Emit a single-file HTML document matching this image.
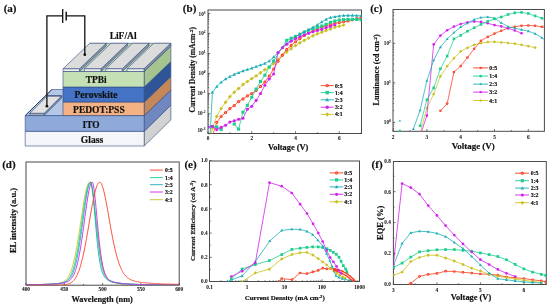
<!DOCTYPE html><html><head><meta charset="utf-8"><style>html,body{margin:0;padding:0;background:#fff;overflow:hidden}svg{display:block;filter:blur(0.35px)}text{font-family:"Liberation Serif",serif;font-weight:bold;stroke:#111;stroke-width:0.18px}.tk{stroke-width:0.06px}</style></head><body>
<svg width="550" height="308" viewBox="0 0 550 308">
<rect width="550" height="308" fill="#fff"/>
<defs>
<clipPath id="cb"><rect x="208" y="10" width="153.5" height="123.5"/></clipPath>
<clipPath id="cc"><rect x="393" y="9.5" width="151.5" height="121.8"/></clipPath>
<clipPath id="cd"><rect x="26" y="162" width="153.2" height="123.2"/></clipPath>
<clipPath id="ce"><rect x="209.5" y="161" width="150" height="120.5"/></clipPath>
<clipPath id="cf"><rect x="393.4" y="161.5" width="152.9" height="123"/></clipPath>
<pattern id="dots" width="2" height="2" patternUnits="userSpaceOnUse"><rect width="2" height="2" fill="#f6f7fa"/><rect width="1" height="1" fill="#eceff4"/></pattern>
</defs>
<g stroke-linejoin="round"><polygon points="144.2,131.3 170.9,105.2 170.9,119.9 144.2,146" fill="#d2d2d2" stroke="#2f4a7f" stroke-width="0.6"/><polygon points="144.2,115.6 170.9,89.5 170.9,105.2 144.2,131.3" fill="#7088bf" stroke="#2f4a7f" stroke-width="0.6"/><polygon points="25.2,115.6 144.2,115.6 170.9,89.5 51.9,89.5" fill="#b4c7e7" stroke="#2f4a7f" stroke-width="0.6"/><line x1="25.2" y1="115.6" x2="51.9" y2="89.5" stroke="#1f3864" stroke-width="0.9"/><polygon points="25.2,131.3 144.2,131.3 144.2,146 25.2,146" fill="url(#dots)" stroke="#2f4a7f" stroke-width="0.6"/><polygon points="25.2,115.6 144.2,115.6 144.2,131.3 25.2,131.3" fill="#8eaadb" stroke="#2f4a7f" stroke-width="0.6"/><polygon points="29.8,113.4 44.3,113.4 61.8,95.9 47.3,95.9" fill="#e2e2e2" stroke="#2f4a7f" stroke-width="0.6"/><line x1="47.3" y1="95.9" x2="61.8" y2="95.9" stroke="#2a3f6a" stroke-width="0.9"/><polygon points="44.3,113.4 61.8,95.9 61.8,97.9 44.3,115.3" fill="#8a93a3" stroke="#2f4a7f" stroke-width="0.6"/><polygon points="29.8,113.4 44.3,113.4 44.3,115.3 29.8,115.3" fill="#b9b9b9" stroke="#2f4a7f" stroke-width="0.6"/><polygon points="144.2,102 170.9,76.5 170.9,90.1 144.2,115.6" fill="#c4875a" stroke="#2f4a7f" stroke-width="0.6"/><polygon points="144.2,87 170.9,61.5 170.9,76.5 144.2,102" fill="#2e5597" stroke="#2f4a7f" stroke-width="0.6"/><polygon points="144.2,71.5 170.9,46 170.9,61.5 144.2,87" fill="#a6c48f" stroke="#2f4a7f" stroke-width="0.6"/><polygon points="63,71.5 144.2,71.5 170.9,46 170.9,43.3 89.7,43.3 89.7,46" fill="#c5e0b4" stroke="#2f4a7f" stroke-width="0.6"/><polygon points="63,102 144.2,102 144.2,115.6 63,115.6" fill="#f4b183" stroke="#2f4a7f" stroke-width="0.6"/><polygon points="63,87 144.2,87 144.2,102 63,102" fill="#4472c4" stroke="#2f4a7f" stroke-width="0.6"/><polygon points="63,71.5 144.2,71.5 144.2,87 63,87" fill="#c5e0b4" stroke="#2f4a7f" stroke-width="0.6"/><polygon points="79.5,68.8 106.2,43.3 106.2,46 79.5,71.5" fill="#8c96a8" stroke="#2f4a7f" stroke-width="0.6"/><polygon points="63,68.8 79.5,68.8 106.2,43.3 89.7,43.3" fill="#dcdcdc" stroke="#2f4a7f" stroke-width="0.6"/><polygon points="63,68.8 79.5,68.8 79.5,71.5 63,71.5" fill="#eeeeee" stroke="#2f4a7f" stroke-width="0.6"/><polygon points="101,68.8 127.7,43.3 127.7,46 101,71.5" fill="#8c96a8" stroke="#2f4a7f" stroke-width="0.6"/><polygon points="84.3,68.8 101,68.8 127.7,43.3 111,43.3" fill="#dcdcdc" stroke="#2f4a7f" stroke-width="0.6"/><polygon points="84.3,68.8 101,68.8 101,71.5 84.3,71.5" fill="#eeeeee" stroke="#2f4a7f" stroke-width="0.6"/><polygon points="122.3,68.8 149,43.3 149,46 122.3,71.5" fill="#8c96a8" stroke="#2f4a7f" stroke-width="0.6"/><polygon points="105.8,68.8 122.3,68.8 149,43.3 132.5,43.3" fill="#dcdcdc" stroke="#2f4a7f" stroke-width="0.6"/><polygon points="105.8,68.8 122.3,68.8 122.3,71.5 105.8,71.5" fill="#eeeeee" stroke="#2f4a7f" stroke-width="0.6"/><polygon points="144,68.8 170.7,43.3 170.7,46 144,71.5" fill="#8c96a8" stroke="#2f4a7f" stroke-width="0.6"/><polygon points="127,68.8 144,68.8 170.7,43.3 153.7,43.3" fill="#dcdcdc" stroke="#2f4a7f" stroke-width="0.6"/><polygon points="127,68.8 144,68.8 144,71.5 127,71.5" fill="#eeeeee" stroke="#2f4a7f" stroke-width="0.6"/></g><g stroke="#111" stroke-width="1.3" fill="none" stroke-linecap="butt"><polyline points="46.9,106.2 46.9,15.8 62.7,15.8"/><polyline points="66.2,15.8 84.8,15.8 84.8,54.7"/><line x1="62.7" y1="9.1" x2="62.7" y2="23.1"/><line x1="66.2" y1="11.7" x2="66.2" y2="20.5" stroke-width="1.5"/></g><circle cx="46.9" cy="106.2" r="1.4" fill="#111"/><circle cx="84.8" cy="54.7" r="1.4" fill="#111"/><text x="123.1" y="38.6" font-size="9.5" text-anchor="middle" fill="#111">LiF/Al</text><text x="96.2" y="83.1" font-size="9.4" text-anchor="middle" fill="#111">TPBi</text><text x="96" y="98.4" font-size="9.6" text-anchor="middle" fill="#111">Perovskite</text><text x="98.9" y="112.8" font-size="9.5" text-anchor="middle" fill="#111">PEDOT:PSS</text><text x="91" y="127.9" font-size="9.4" text-anchor="middle" fill="#111">ITO</text><text x="92" y="143.1" font-size="9.6" text-anchor="middle" fill="#111">Glass</text><text x="10.1" y="11.8" font-size="11" text-anchor="middle" fill="#111">(a)</text>
<rect x="208" y="10" width="153.5" height="123.5" fill="none" stroke="#4a4a4a" stroke-width="1"/><line x1="208" y1="133.75" x2="210.2" y2="133.75" stroke="#4a4a4a" stroke-width="0.8"/><line x1="208" y1="127.71" x2="209.1" y2="127.71" stroke="#4a4a4a" stroke-width="0.8"/><line x1="208" y1="124.18" x2="209.1" y2="124.18" stroke="#4a4a4a" stroke-width="0.8"/><line x1="208" y1="121.68" x2="209.1" y2="121.68" stroke="#4a4a4a" stroke-width="0.8"/><line x1="208" y1="119.74" x2="209.1" y2="119.74" stroke="#4a4a4a" stroke-width="0.8"/><line x1="208" y1="118.15" x2="209.1" y2="118.15" stroke="#4a4a4a" stroke-width="0.8"/><line x1="208" y1="116.81" x2="209.1" y2="116.81" stroke="#4a4a4a" stroke-width="0.8"/><line x1="208" y1="115.64" x2="209.1" y2="115.64" stroke="#4a4a4a" stroke-width="0.8"/><line x1="208" y1="114.62" x2="209.1" y2="114.62" stroke="#4a4a4a" stroke-width="0.8"/><line x1="208" y1="113.7" x2="210.2" y2="113.7" stroke="#4a4a4a" stroke-width="0.8"/><line x1="208" y1="107.66" x2="209.1" y2="107.66" stroke="#4a4a4a" stroke-width="0.8"/><line x1="208" y1="104.13" x2="209.1" y2="104.13" stroke="#4a4a4a" stroke-width="0.8"/><line x1="208" y1="101.63" x2="209.1" y2="101.63" stroke="#4a4a4a" stroke-width="0.8"/><line x1="208" y1="99.69" x2="209.1" y2="99.69" stroke="#4a4a4a" stroke-width="0.8"/><line x1="208" y1="98.1" x2="209.1" y2="98.1" stroke="#4a4a4a" stroke-width="0.8"/><line x1="208" y1="96.76" x2="209.1" y2="96.76" stroke="#4a4a4a" stroke-width="0.8"/><line x1="208" y1="95.59" x2="209.1" y2="95.59" stroke="#4a4a4a" stroke-width="0.8"/><line x1="208" y1="94.57" x2="209.1" y2="94.57" stroke="#4a4a4a" stroke-width="0.8"/><line x1="208" y1="93.65" x2="210.2" y2="93.65" stroke="#4a4a4a" stroke-width="0.8"/><line x1="208" y1="87.61" x2="209.1" y2="87.61" stroke="#4a4a4a" stroke-width="0.8"/><line x1="208" y1="84.08" x2="209.1" y2="84.08" stroke="#4a4a4a" stroke-width="0.8"/><line x1="208" y1="81.58" x2="209.1" y2="81.58" stroke="#4a4a4a" stroke-width="0.8"/><line x1="208" y1="79.64" x2="209.1" y2="79.64" stroke="#4a4a4a" stroke-width="0.8"/><line x1="208" y1="78.05" x2="209.1" y2="78.05" stroke="#4a4a4a" stroke-width="0.8"/><line x1="208" y1="76.71" x2="209.1" y2="76.71" stroke="#4a4a4a" stroke-width="0.8"/><line x1="208" y1="75.54" x2="209.1" y2="75.54" stroke="#4a4a4a" stroke-width="0.8"/><line x1="208" y1="74.52" x2="209.1" y2="74.52" stroke="#4a4a4a" stroke-width="0.8"/><line x1="208" y1="73.6" x2="210.2" y2="73.6" stroke="#4a4a4a" stroke-width="0.8"/><line x1="208" y1="67.56" x2="209.1" y2="67.56" stroke="#4a4a4a" stroke-width="0.8"/><line x1="208" y1="64.03" x2="209.1" y2="64.03" stroke="#4a4a4a" stroke-width="0.8"/><line x1="208" y1="61.53" x2="209.1" y2="61.53" stroke="#4a4a4a" stroke-width="0.8"/><line x1="208" y1="59.59" x2="209.1" y2="59.59" stroke="#4a4a4a" stroke-width="0.8"/><line x1="208" y1="58" x2="209.1" y2="58" stroke="#4a4a4a" stroke-width="0.8"/><line x1="208" y1="56.66" x2="209.1" y2="56.66" stroke="#4a4a4a" stroke-width="0.8"/><line x1="208" y1="55.49" x2="209.1" y2="55.49" stroke="#4a4a4a" stroke-width="0.8"/><line x1="208" y1="54.47" x2="209.1" y2="54.47" stroke="#4a4a4a" stroke-width="0.8"/><line x1="208" y1="53.55" x2="210.2" y2="53.55" stroke="#4a4a4a" stroke-width="0.8"/><line x1="208" y1="47.51" x2="209.1" y2="47.51" stroke="#4a4a4a" stroke-width="0.8"/><line x1="208" y1="43.98" x2="209.1" y2="43.98" stroke="#4a4a4a" stroke-width="0.8"/><line x1="208" y1="41.48" x2="209.1" y2="41.48" stroke="#4a4a4a" stroke-width="0.8"/><line x1="208" y1="39.54" x2="209.1" y2="39.54" stroke="#4a4a4a" stroke-width="0.8"/><line x1="208" y1="37.95" x2="209.1" y2="37.95" stroke="#4a4a4a" stroke-width="0.8"/><line x1="208" y1="36.61" x2="209.1" y2="36.61" stroke="#4a4a4a" stroke-width="0.8"/><line x1="208" y1="35.44" x2="209.1" y2="35.44" stroke="#4a4a4a" stroke-width="0.8"/><line x1="208" y1="34.42" x2="209.1" y2="34.42" stroke="#4a4a4a" stroke-width="0.8"/><line x1="208" y1="33.5" x2="210.2" y2="33.5" stroke="#4a4a4a" stroke-width="0.8"/><line x1="208" y1="27.46" x2="209.1" y2="27.46" stroke="#4a4a4a" stroke-width="0.8"/><line x1="208" y1="23.93" x2="209.1" y2="23.93" stroke="#4a4a4a" stroke-width="0.8"/><line x1="208" y1="21.43" x2="209.1" y2="21.43" stroke="#4a4a4a" stroke-width="0.8"/><line x1="208" y1="19.49" x2="209.1" y2="19.49" stroke="#4a4a4a" stroke-width="0.8"/><line x1="208" y1="17.9" x2="209.1" y2="17.9" stroke="#4a4a4a" stroke-width="0.8"/><line x1="208" y1="16.56" x2="209.1" y2="16.56" stroke="#4a4a4a" stroke-width="0.8"/><line x1="208" y1="15.39" x2="209.1" y2="15.39" stroke="#4a4a4a" stroke-width="0.8"/><line x1="208" y1="14.37" x2="209.1" y2="14.37" stroke="#4a4a4a" stroke-width="0.8"/><line x1="208" y1="13.45" x2="210.2" y2="13.45" stroke="#4a4a4a" stroke-width="0.8"/><line x1="208" y1="133.5" x2="208" y2="131.3" stroke="#4a4a4a" stroke-width="0.8"/><line x1="229.88" y1="133.5" x2="229.88" y2="132.3" stroke="#4a4a4a" stroke-width="0.8"/><line x1="251.75" y1="133.5" x2="251.75" y2="131.3" stroke="#4a4a4a" stroke-width="0.8"/><line x1="273.62" y1="133.5" x2="273.62" y2="132.3" stroke="#4a4a4a" stroke-width="0.8"/><line x1="295.5" y1="133.5" x2="295.5" y2="131.3" stroke="#4a4a4a" stroke-width="0.8"/><line x1="317.38" y1="133.5" x2="317.38" y2="132.3" stroke="#4a4a4a" stroke-width="0.8"/><line x1="339.25" y1="133.5" x2="339.25" y2="131.3" stroke="#4a4a4a" stroke-width="0.8"/><line x1="361.12" y1="133.5" x2="361.12" y2="132.3" stroke="#4a4a4a" stroke-width="0.8"/><text x="208" y="140.4" font-size="5.3" text-anchor="middle" fill="#111" class="tk">0</text><text x="251.8" y="140.4" font-size="5.3" text-anchor="middle" fill="#111" class="tk">2</text><text x="295.5" y="140.4" font-size="5.3" text-anchor="middle" fill="#111" class="tk">4</text><text x="339.3" y="140.4" font-size="5.3" text-anchor="middle" fill="#111" class="tk">6</text><text x="205.5" y="15.8" font-size="5.2" text-anchor="end" fill="#222" class="tk">10<tspan font-size="3.5" dy="-2">3</tspan></text><text x="205.5" y="35.4" font-size="5.2" text-anchor="end" fill="#222" class="tk">10<tspan font-size="3.5" dy="-2">2</tspan></text><text x="205.5" y="55.4" font-size="5.2" text-anchor="end" fill="#222" class="tk">10<tspan font-size="3.5" dy="-2">1</tspan></text><text x="205.5" y="75.4" font-size="5.2" text-anchor="end" fill="#222" class="tk">10<tspan font-size="3.5" dy="-2">0</tspan></text><text x="205.5" y="95.4" font-size="5.2" text-anchor="end" fill="#222" class="tk">10<tspan font-size="3.5" dy="-2">-1</tspan></text><text x="205.5" y="114.9" font-size="5.2" text-anchor="end" fill="#222" class="tk">10<tspan font-size="3.5" dy="-2">-2</tspan></text><text x="205.5" y="132.4" font-size="5.2" text-anchor="end" fill="#222" class="tk">10<tspan font-size="3.5" dy="-2">-3</tspan></text><text x="288.2" y="149.5" font-size="8.4" text-anchor="middle" fill="#111">Voltage (V)</text><text transform="translate(195.2,69.8) rotate(-90)" font-size="7.6" text-anchor="middle" fill="#111">Current Density (mAcm<tspan font-size="5" dy="-2.5">-2</tspan><tspan dy="2.5">)</tspan></text><text x="189.6" y="11.6" font-size="11" text-anchor="middle" fill="#111">(b)</text>
<g clip-path="url(#cb)"><polyline points="208,150 212.38,128.1 216.75,116.4 221.12,108.6 225.5,102.3 229.88,96.8 234.25,92.2 238.62,88.5 243,84.5 247.38,81.6 251.75,78.6 256.12,75.9 260.5,72.7 264.88,69.8 269.25,67.3 273.62,63.7 278,59.5 282.38,55 286.75,52.1 291.12,48.7 295.5,45.5 299.88,42.7 304.25,40.4 308.62,38.1 313,35.8 317.38,33.7 321.75,32.2 326.12,30.5 330.5,29 334.88,27.2 339.25,26.3 343.62,25.1" fill="none" stroke="#c9c222" stroke-width="0.8" stroke-linejoin="round"/><polygon points="208,148.06 209.94,150 208,151.94 206.06,150" fill="#c9c222"/><polygon points="212.38,126.16 214.31,128.1 212.38,130.04 210.44,128.1" fill="#c9c222"/><polygon points="216.75,114.46 218.69,116.4 216.75,118.34 214.81,116.4" fill="#c9c222"/><polygon points="221.12,106.66 223.06,108.6 221.12,110.54 219.19,108.6" fill="#c9c222"/><polygon points="225.5,100.36 227.44,102.3 225.5,104.24 223.56,102.3" fill="#c9c222"/><polygon points="229.88,94.86 231.81,96.8 229.88,98.74 227.94,96.8" fill="#c9c222"/><polygon points="234.25,90.26 236.19,92.2 234.25,94.14 232.31,92.2" fill="#c9c222"/><polygon points="238.62,86.56 240.56,88.5 238.62,90.44 236.69,88.5" fill="#c9c222"/><polygon points="243,82.56 244.94,84.5 243,86.44 241.06,84.5" fill="#c9c222"/><polygon points="247.38,79.66 249.31,81.6 247.38,83.54 245.44,81.6" fill="#c9c222"/><polygon points="251.75,76.66 253.69,78.6 251.75,80.54 249.81,78.6" fill="#c9c222"/><polygon points="256.12,73.96 258.06,75.9 256.12,77.84 254.19,75.9" fill="#c9c222"/><polygon points="260.5,70.76 262.44,72.7 260.5,74.64 258.56,72.7" fill="#c9c222"/><polygon points="264.88,67.86 266.81,69.8 264.88,71.74 262.94,69.8" fill="#c9c222"/><polygon points="269.25,65.36 271.19,67.3 269.25,69.24 267.31,67.3" fill="#c9c222"/><polygon points="273.62,61.76 275.56,63.7 273.62,65.64 271.69,63.7" fill="#c9c222"/><polygon points="278,57.56 279.94,59.5 278,61.44 276.06,59.5" fill="#c9c222"/><polygon points="282.38,53.06 284.31,55 282.38,56.94 280.44,55" fill="#c9c222"/><polygon points="286.75,50.16 288.69,52.1 286.75,54.04 284.81,52.1" fill="#c9c222"/><polygon points="291.12,46.76 293.06,48.7 291.12,50.64 289.19,48.7" fill="#c9c222"/><polygon points="295.5,43.56 297.44,45.5 295.5,47.44 293.56,45.5" fill="#c9c222"/><polygon points="299.88,40.76 301.81,42.7 299.88,44.64 297.94,42.7" fill="#c9c222"/><polygon points="304.25,38.46 306.19,40.4 304.25,42.34 302.31,40.4" fill="#c9c222"/><polygon points="308.62,36.16 310.56,38.1 308.62,40.04 306.69,38.1" fill="#c9c222"/><polygon points="313,33.86 314.94,35.8 313,37.74 311.06,35.8" fill="#c9c222"/><polygon points="317.38,31.76 319.31,33.7 317.38,35.64 315.44,33.7" fill="#c9c222"/><polygon points="321.75,30.26 323.69,32.2 321.75,34.14 319.81,32.2" fill="#c9c222"/><polygon points="326.12,28.56 328.06,30.5 326.12,32.44 324.19,30.5" fill="#c9c222"/><polygon points="330.5,27.06 332.44,29 330.5,30.94 328.56,29" fill="#c9c222"/><polygon points="334.88,25.26 336.81,27.2 334.88,29.14 332.94,27.2" fill="#c9c222"/><polygon points="339.25,24.36 341.19,26.3 339.25,28.24 337.31,26.3" fill="#c9c222"/><polygon points="343.62,23.16 345.56,25.1 343.62,27.04 341.69,25.1" fill="#c9c222"/></g><g clip-path="url(#cb)"><polyline points="212.38,136 216.75,122.3 221.12,116.5 225.5,112.6 229.88,108.6 234.25,105.6 238.62,101.6 243,98.9 247.38,95.9 251.75,93.5 256.12,90.5 260.5,86.4 264.88,82 269.25,76 273.62,69 278,61.3 282.38,55.3 286.75,49.4 291.12,45.4 295.5,41.7 299.88,38.6 304.25,35.5 308.62,33 313,30.8 317.38,28.8 321.75,27.2 326.12,26 330.5,24.6 334.88,23.4 339.25,22.6 343.62,21.8 348,21 352.38,19.8 356.75,18.6 361.12,17.7" fill="none" stroke="#fa3c22" stroke-width="0.8" stroke-linejoin="round"/><circle cx="212.38" cy="136" r="1.55" fill="#fa3c22"/><circle cx="212.38" cy="136" r="0.59" fill="#ff9d90"/><circle cx="216.75" cy="122.3" r="1.55" fill="#fa3c22"/><circle cx="216.75" cy="122.3" r="0.59" fill="#ff9d90"/><circle cx="221.12" cy="116.5" r="1.55" fill="#fa3c22"/><circle cx="221.12" cy="116.5" r="0.59" fill="#ff9d90"/><circle cx="225.5" cy="112.6" r="1.55" fill="#fa3c22"/><circle cx="225.5" cy="112.6" r="0.59" fill="#ff9d90"/><circle cx="229.88" cy="108.6" r="1.55" fill="#fa3c22"/><circle cx="229.88" cy="108.6" r="0.59" fill="#ff9d90"/><circle cx="234.25" cy="105.6" r="1.55" fill="#fa3c22"/><circle cx="234.25" cy="105.6" r="0.59" fill="#ff9d90"/><circle cx="238.62" cy="101.6" r="1.55" fill="#fa3c22"/><circle cx="238.62" cy="101.6" r="0.59" fill="#ff9d90"/><circle cx="243" cy="98.9" r="1.55" fill="#fa3c22"/><circle cx="243" cy="98.9" r="0.59" fill="#ff9d90"/><circle cx="247.38" cy="95.9" r="1.55" fill="#fa3c22"/><circle cx="247.38" cy="95.9" r="0.59" fill="#ff9d90"/><circle cx="251.75" cy="93.5" r="1.55" fill="#fa3c22"/><circle cx="251.75" cy="93.5" r="0.59" fill="#ff9d90"/><circle cx="256.12" cy="90.5" r="1.55" fill="#fa3c22"/><circle cx="256.12" cy="90.5" r="0.59" fill="#ff9d90"/><circle cx="260.5" cy="86.4" r="1.55" fill="#fa3c22"/><circle cx="260.5" cy="86.4" r="0.59" fill="#ff9d90"/><circle cx="264.88" cy="82" r="1.55" fill="#fa3c22"/><circle cx="264.88" cy="82" r="0.59" fill="#ff9d90"/><circle cx="269.25" cy="76" r="1.55" fill="#fa3c22"/><circle cx="269.25" cy="76" r="0.59" fill="#ff9d90"/><circle cx="273.62" cy="69" r="1.55" fill="#fa3c22"/><circle cx="273.62" cy="69" r="0.59" fill="#ff9d90"/><circle cx="278" cy="61.3" r="1.55" fill="#fa3c22"/><circle cx="278" cy="61.3" r="0.59" fill="#ff9d90"/><circle cx="282.38" cy="55.3" r="1.55" fill="#fa3c22"/><circle cx="282.38" cy="55.3" r="0.59" fill="#ff9d90"/><circle cx="286.75" cy="49.4" r="1.55" fill="#fa3c22"/><circle cx="286.75" cy="49.4" r="0.59" fill="#ff9d90"/><circle cx="291.12" cy="45.4" r="1.55" fill="#fa3c22"/><circle cx="291.12" cy="45.4" r="0.59" fill="#ff9d90"/><circle cx="295.5" cy="41.7" r="1.55" fill="#fa3c22"/><circle cx="295.5" cy="41.7" r="0.59" fill="#ff9d90"/><circle cx="299.88" cy="38.6" r="1.55" fill="#fa3c22"/><circle cx="299.88" cy="38.6" r="0.59" fill="#ff9d90"/><circle cx="304.25" cy="35.5" r="1.55" fill="#fa3c22"/><circle cx="304.25" cy="35.5" r="0.59" fill="#ff9d90"/><circle cx="308.62" cy="33" r="1.55" fill="#fa3c22"/><circle cx="308.62" cy="33" r="0.59" fill="#ff9d90"/><circle cx="313" cy="30.8" r="1.55" fill="#fa3c22"/><circle cx="313" cy="30.8" r="0.59" fill="#ff9d90"/><circle cx="317.38" cy="28.8" r="1.55" fill="#fa3c22"/><circle cx="317.38" cy="28.8" r="0.59" fill="#ff9d90"/><circle cx="321.75" cy="27.2" r="1.55" fill="#fa3c22"/><circle cx="321.75" cy="27.2" r="0.59" fill="#ff9d90"/><circle cx="326.12" cy="26" r="1.55" fill="#fa3c22"/><circle cx="326.12" cy="26" r="0.59" fill="#ff9d90"/><circle cx="330.5" cy="24.6" r="1.55" fill="#fa3c22"/><circle cx="330.5" cy="24.6" r="0.59" fill="#ff9d90"/><circle cx="334.88" cy="23.4" r="1.55" fill="#fa3c22"/><circle cx="334.88" cy="23.4" r="0.59" fill="#ff9d90"/><circle cx="339.25" cy="22.6" r="1.55" fill="#fa3c22"/><circle cx="339.25" cy="22.6" r="0.59" fill="#ff9d90"/><circle cx="343.62" cy="21.8" r="1.55" fill="#fa3c22"/><circle cx="343.62" cy="21.8" r="0.59" fill="#ff9d90"/><circle cx="348" cy="21" r="1.55" fill="#fa3c22"/><circle cx="348" cy="21" r="0.59" fill="#ff9d90"/><circle cx="352.38" cy="19.8" r="1.55" fill="#fa3c22"/><circle cx="352.38" cy="19.8" r="0.59" fill="#ff9d90"/><circle cx="356.75" cy="18.6" r="1.55" fill="#fa3c22"/><circle cx="356.75" cy="18.6" r="0.59" fill="#ff9d90"/><circle cx="361.12" cy="17.7" r="1.55" fill="#fa3c22"/><circle cx="361.12" cy="17.7" r="0.59" fill="#ff9d90"/></g><g clip-path="url(#cb)"><polyline points="208,127 212.38,126.5 216.75,126.9 221.12,129.5" fill="none" stroke="#1ccf8c" stroke-width="0.8" stroke-linejoin="round"/><rect x="206.45" y="125.45" width="3.1" height="3.1" fill="#1ccf8c"/><rect x="210.82" y="124.95" width="3.1" height="3.1" fill="#1ccf8c"/><rect x="215.2" y="125.35" width="3.1" height="3.1" fill="#1ccf8c"/><rect x="219.57" y="127.95" width="3.1" height="3.1" fill="#1ccf8c"/></g><g clip-path="url(#cb)"><polyline points="234.25,124 238.62,129.1 243,112.2 247.38,105.3 251.75,97.2 256.12,89.1 260.5,81.5 264.88,75.2 269.25,67 273.62,61 286.75,40.3 291.12,38.2 295.5,36.4 299.88,34.4 304.25,32.2 308.62,30.2 313,28.6 317.38,27.4 321.75,26 326.12,24.3 330.5,22.3 334.88,21 339.25,20 343.62,19.6 348,19.3 352.38,19.3 356.75,19.4 361.12,19.8" fill="none" stroke="#1ccf8c" stroke-width="0.8" stroke-linejoin="round"/><rect x="232.7" y="122.45" width="3.1" height="3.1" fill="#1ccf8c"/><rect x="237.07" y="127.55" width="3.1" height="3.1" fill="#1ccf8c"/><rect x="241.45" y="110.65" width="3.1" height="3.1" fill="#1ccf8c"/><rect x="245.82" y="103.75" width="3.1" height="3.1" fill="#1ccf8c"/><rect x="250.2" y="95.65" width="3.1" height="3.1" fill="#1ccf8c"/><rect x="254.57" y="87.55" width="3.1" height="3.1" fill="#1ccf8c"/><rect x="258.95" y="79.95" width="3.1" height="3.1" fill="#1ccf8c"/><rect x="263.32" y="73.65" width="3.1" height="3.1" fill="#1ccf8c"/><rect x="267.7" y="65.45" width="3.1" height="3.1" fill="#1ccf8c"/><rect x="272.07" y="59.45" width="3.1" height="3.1" fill="#1ccf8c"/><rect x="285.2" y="38.75" width="3.1" height="3.1" fill="#1ccf8c"/><rect x="289.57" y="36.65" width="3.1" height="3.1" fill="#1ccf8c"/><rect x="293.95" y="34.85" width="3.1" height="3.1" fill="#1ccf8c"/><rect x="298.32" y="32.85" width="3.1" height="3.1" fill="#1ccf8c"/><rect x="302.7" y="30.65" width="3.1" height="3.1" fill="#1ccf8c"/><rect x="307.07" y="28.65" width="3.1" height="3.1" fill="#1ccf8c"/><rect x="311.45" y="27.05" width="3.1" height="3.1" fill="#1ccf8c"/><rect x="315.82" y="25.85" width="3.1" height="3.1" fill="#1ccf8c"/><rect x="320.2" y="24.45" width="3.1" height="3.1" fill="#1ccf8c"/><rect x="324.57" y="22.75" width="3.1" height="3.1" fill="#1ccf8c"/><rect x="328.95" y="20.75" width="3.1" height="3.1" fill="#1ccf8c"/><rect x="333.32" y="19.45" width="3.1" height="3.1" fill="#1ccf8c"/><rect x="337.7" y="18.45" width="3.1" height="3.1" fill="#1ccf8c"/><rect x="342.07" y="18.05" width="3.1" height="3.1" fill="#1ccf8c"/><rect x="346.45" y="17.75" width="3.1" height="3.1" fill="#1ccf8c"/><rect x="350.82" y="17.75" width="3.1" height="3.1" fill="#1ccf8c"/><rect x="355.2" y="17.85" width="3.1" height="3.1" fill="#1ccf8c"/><rect x="359.57" y="18.25" width="3.1" height="3.1" fill="#1ccf8c"/></g><g clip-path="url(#cb)"><polyline points="208,174 212.38,92.3 216.75,86.6 221.12,82.3 225.5,79.1 229.88,76.6 234.25,74.4 238.62,72.7 243,70.9 247.38,69.5 251.75,68.3 256.12,66.5 260.5,65.1 264.88,63.4 269.25,61 273.62,57.1 278,52.5 282.38,47.5 286.75,43.5 291.12,40 295.5,36.8 299.88,33.9 304.25,31.8 308.62,29.8 313,27.3 317.38,24.8 321.75,22 326.12,19.4 330.5,17.5 334.88,16.7 339.25,16 343.62,15.6 348,15.4 352.38,15.4 356.75,15.6 361.12,15.8" fill="none" stroke="#1aaeb6" stroke-width="0.8" stroke-linejoin="round"/><polygon points="208,172.22 209.71,175.24 206.29,175.24" fill="#1aaeb6"/><polygon points="212.38,90.52 214.08,93.54 210.67,93.54" fill="#1aaeb6"/><polygon points="216.75,84.82 218.46,87.84 215.04,87.84" fill="#1aaeb6"/><polygon points="221.12,80.52 222.83,83.54 219.42,83.54" fill="#1aaeb6"/><polygon points="225.5,77.32 227.21,80.34 223.79,80.34" fill="#1aaeb6"/><polygon points="229.88,74.82 231.58,77.84 228.17,77.84" fill="#1aaeb6"/><polygon points="234.25,72.62 235.96,75.64 232.54,75.64" fill="#1aaeb6"/><polygon points="238.62,70.92 240.33,73.94 236.92,73.94" fill="#1aaeb6"/><polygon points="243,69.12 244.71,72.14 241.29,72.14" fill="#1aaeb6"/><polygon points="247.38,67.72 249.08,70.74 245.67,70.74" fill="#1aaeb6"/><polygon points="251.75,66.52 253.46,69.54 250.04,69.54" fill="#1aaeb6"/><polygon points="256.12,64.72 257.83,67.74 254.42,67.74" fill="#1aaeb6"/><polygon points="260.5,63.32 262.2,66.34 258.8,66.34" fill="#1aaeb6"/><polygon points="264.88,61.62 266.58,64.64 263.17,64.64" fill="#1aaeb6"/><polygon points="269.25,59.22 270.95,62.24 267.55,62.24" fill="#1aaeb6"/><polygon points="273.62,55.32 275.33,58.34 271.92,58.34" fill="#1aaeb6"/><polygon points="278,50.72 279.7,53.74 276.3,53.74" fill="#1aaeb6"/><polygon points="282.38,45.72 284.08,48.74 280.67,48.74" fill="#1aaeb6"/><polygon points="286.75,41.72 288.45,44.74 285.05,44.74" fill="#1aaeb6"/><polygon points="291.12,38.22 292.83,41.24 289.42,41.24" fill="#1aaeb6"/><polygon points="295.5,35.02 297.2,38.04 293.8,38.04" fill="#1aaeb6"/><polygon points="299.88,32.12 301.58,35.14 298.17,35.14" fill="#1aaeb6"/><polygon points="304.25,30.02 305.95,33.04 302.55,33.04" fill="#1aaeb6"/><polygon points="308.62,28.02 310.33,31.04 306.92,31.04" fill="#1aaeb6"/><polygon points="313,25.52 314.7,28.54 311.3,28.54" fill="#1aaeb6"/><polygon points="317.38,23.02 319.08,26.04 315.67,26.04" fill="#1aaeb6"/><polygon points="321.75,20.22 323.45,23.24 320.05,23.24" fill="#1aaeb6"/><polygon points="326.12,17.62 327.83,20.64 324.42,20.64" fill="#1aaeb6"/><polygon points="330.5,15.72 332.2,18.74 328.8,18.74" fill="#1aaeb6"/><polygon points="334.88,14.92 336.58,17.94 333.17,17.94" fill="#1aaeb6"/><polygon points="339.25,14.22 340.95,17.24 337.55,17.24" fill="#1aaeb6"/><polygon points="343.62,13.82 345.33,16.84 341.92,16.84" fill="#1aaeb6"/><polygon points="348,13.62 349.7,16.64 346.3,16.64" fill="#1aaeb6"/><polygon points="352.38,13.62 354.08,16.64 350.67,16.64" fill="#1aaeb6"/><polygon points="356.75,13.82 358.45,16.84 355.05,16.84" fill="#1aaeb6"/><polygon points="361.12,14.02 362.83,17.04 359.42,17.04" fill="#1aaeb6"/></g><g clip-path="url(#cb)"><polyline points="208,127.1 212.38,126.2 216.75,129.6 221.12,127.3 225.5,125.3 229.88,122 234.25,120.8 238.62,119.3 243,118.3 247.38,109.3 251.75,106.2 256.12,100.4 260.5,93.5 264.88,85.3 269.25,79 273.62,74 278,52.5 282.38,47.7 286.75,44.3 291.12,41.3 295.5,38.7 299.88,36.7 304.25,34.8 308.62,33.3 313,31.8 317.38,30.5 321.75,29.4 326.12,27.8 330.5,26.4 334.88,24.8" fill="none" stroke="#d222ee" stroke-width="0.8" stroke-linejoin="round"/><circle cx="208" cy="127.1" r="1.55" fill="#d222ee"/><circle cx="212.38" cy="126.2" r="1.55" fill="#d222ee"/><circle cx="216.75" cy="129.6" r="1.55" fill="#d222ee"/><circle cx="221.12" cy="127.3" r="1.55" fill="#d222ee"/><circle cx="225.5" cy="125.3" r="1.55" fill="#d222ee"/><circle cx="229.88" cy="122" r="1.55" fill="#d222ee"/><circle cx="234.25" cy="120.8" r="1.55" fill="#d222ee"/><circle cx="238.62" cy="119.3" r="1.55" fill="#d222ee"/><circle cx="243" cy="118.3" r="1.55" fill="#d222ee"/><circle cx="247.38" cy="109.3" r="1.55" fill="#d222ee"/><circle cx="251.75" cy="106.2" r="1.55" fill="#d222ee"/><circle cx="256.12" cy="100.4" r="1.55" fill="#d222ee"/><circle cx="260.5" cy="93.5" r="1.55" fill="#d222ee"/><circle cx="264.88" cy="85.3" r="1.55" fill="#d222ee"/><circle cx="269.25" cy="79" r="1.55" fill="#d222ee"/><circle cx="273.62" cy="74" r="1.55" fill="#d222ee"/><circle cx="278" cy="52.5" r="1.55" fill="#d222ee"/><circle cx="282.38" cy="47.7" r="1.55" fill="#d222ee"/><circle cx="286.75" cy="44.3" r="1.55" fill="#d222ee"/><circle cx="291.12" cy="41.3" r="1.55" fill="#d222ee"/><circle cx="295.5" cy="38.7" r="1.55" fill="#d222ee"/><circle cx="299.88" cy="36.7" r="1.55" fill="#d222ee"/><circle cx="304.25" cy="34.8" r="1.55" fill="#d222ee"/><circle cx="308.62" cy="33.3" r="1.55" fill="#d222ee"/><circle cx="313" cy="31.8" r="1.55" fill="#d222ee"/><circle cx="317.38" cy="30.5" r="1.55" fill="#d222ee"/><circle cx="321.75" cy="29.4" r="1.55" fill="#d222ee"/><circle cx="326.12" cy="27.8" r="1.55" fill="#d222ee"/><circle cx="330.5" cy="26.4" r="1.55" fill="#d222ee"/><circle cx="334.88" cy="24.8" r="1.55" fill="#d222ee"/></g><line x1="320.7" y1="85.6" x2="333.7" y2="85.6" stroke="#fa3c22" stroke-width="0.9"/><circle cx="327.2" cy="85.6" r="1.7" fill="#fa3c22"/><circle cx="327.2" cy="85.6" r="0.65" fill="#ff9d90"/><text x="335" y="87.59" font-size="5.7" text-anchor="start" fill="#111">0:5</text><line x1="320.7" y1="92.6" x2="333.7" y2="92.6" stroke="#1ccf8c" stroke-width="0.9"/><rect x="325.5" y="90.9" width="3.4" height="3.4" fill="#1ccf8c"/><text x="335" y="94.59" font-size="5.7" text-anchor="start" fill="#111">1:4</text><line x1="320.7" y1="99.8" x2="333.7" y2="99.8" stroke="#1aaeb6" stroke-width="0.9"/><polygon points="327.2,97.84 329.07,101.16 325.33,101.16" fill="#1aaeb6"/><text x="335" y="101.8" font-size="5.7" text-anchor="start" fill="#111">2:3</text><line x1="320.7" y1="107.2" x2="333.7" y2="107.2" stroke="#d222ee" stroke-width="0.9"/><circle cx="327.2" cy="107.2" r="1.7" fill="#d222ee"/><text x="335" y="109.2" font-size="5.7" text-anchor="start" fill="#111">3:2</text><line x1="320.7" y1="114.4" x2="333.7" y2="114.4" stroke="#c9c222" stroke-width="0.9"/><polygon points="327.2,112.28 329.32,114.4 327.2,116.53 325.07,114.4" fill="#c9c222"/><text x="335" y="116.4" font-size="5.7" text-anchor="start" fill="#111">4:1</text>
<rect x="393" y="9.5" width="151.4" height="121.8" fill="none" stroke="#4a4a4a" stroke-width="1"/><line x1="393" y1="122.4" x2="395.2" y2="122.4" stroke="#4a4a4a" stroke-width="0.8"/><line x1="393" y1="82.85" x2="395.2" y2="82.85" stroke="#4a4a4a" stroke-width="0.8"/><line x1="393" y1="43.3" x2="395.2" y2="43.3" stroke="#4a4a4a" stroke-width="0.8"/><line x1="393" y1="131.17" x2="394.1" y2="131.17" stroke="#4a4a4a" stroke-width="0.8"/><line x1="393" y1="128.53" x2="394.1" y2="128.53" stroke="#4a4a4a" stroke-width="0.8"/><line x1="393" y1="126.23" x2="394.1" y2="126.23" stroke="#4a4a4a" stroke-width="0.8"/><line x1="393" y1="124.21" x2="394.1" y2="124.21" stroke="#4a4a4a" stroke-width="0.8"/><line x1="393" y1="110.49" x2="394.1" y2="110.49" stroke="#4a4a4a" stroke-width="0.8"/><line x1="393" y1="103.53" x2="394.1" y2="103.53" stroke="#4a4a4a" stroke-width="0.8"/><line x1="393" y1="98.59" x2="394.1" y2="98.59" stroke="#4a4a4a" stroke-width="0.8"/><line x1="393" y1="94.76" x2="394.1" y2="94.76" stroke="#4a4a4a" stroke-width="0.8"/><line x1="393" y1="91.62" x2="394.1" y2="91.62" stroke="#4a4a4a" stroke-width="0.8"/><line x1="393" y1="88.98" x2="394.1" y2="88.98" stroke="#4a4a4a" stroke-width="0.8"/><line x1="393" y1="86.68" x2="394.1" y2="86.68" stroke="#4a4a4a" stroke-width="0.8"/><line x1="393" y1="84.66" x2="394.1" y2="84.66" stroke="#4a4a4a" stroke-width="0.8"/><line x1="393" y1="70.94" x2="394.1" y2="70.94" stroke="#4a4a4a" stroke-width="0.8"/><line x1="393" y1="63.98" x2="394.1" y2="63.98" stroke="#4a4a4a" stroke-width="0.8"/><line x1="393" y1="59.04" x2="394.1" y2="59.04" stroke="#4a4a4a" stroke-width="0.8"/><line x1="393" y1="55.21" x2="394.1" y2="55.21" stroke="#4a4a4a" stroke-width="0.8"/><line x1="393" y1="52.07" x2="394.1" y2="52.07" stroke="#4a4a4a" stroke-width="0.8"/><line x1="393" y1="49.43" x2="394.1" y2="49.43" stroke="#4a4a4a" stroke-width="0.8"/><line x1="393" y1="47.13" x2="394.1" y2="47.13" stroke="#4a4a4a" stroke-width="0.8"/><line x1="393" y1="45.11" x2="394.1" y2="45.11" stroke="#4a4a4a" stroke-width="0.8"/><line x1="393" y1="31.39" x2="394.1" y2="31.39" stroke="#4a4a4a" stroke-width="0.8"/><line x1="393" y1="24.43" x2="394.1" y2="24.43" stroke="#4a4a4a" stroke-width="0.8"/><line x1="393" y1="19.49" x2="394.1" y2="19.49" stroke="#4a4a4a" stroke-width="0.8"/><line x1="393" y1="15.66" x2="394.1" y2="15.66" stroke="#4a4a4a" stroke-width="0.8"/><line x1="393" y1="12.52" x2="394.1" y2="12.52" stroke="#4a4a4a" stroke-width="0.8"/><line x1="393" y1="9.88" x2="394.1" y2="9.88" stroke="#4a4a4a" stroke-width="0.8"/><line x1="393.1" y1="131.3" x2="393.1" y2="129.1" stroke="#4a4a4a" stroke-width="0.8"/><line x1="410" y1="131.3" x2="410" y2="130.1" stroke="#4a4a4a" stroke-width="0.8"/><line x1="426.9" y1="131.3" x2="426.9" y2="129.1" stroke="#4a4a4a" stroke-width="0.8"/><line x1="443.8" y1="131.3" x2="443.8" y2="130.1" stroke="#4a4a4a" stroke-width="0.8"/><line x1="460.7" y1="131.3" x2="460.7" y2="129.1" stroke="#4a4a4a" stroke-width="0.8"/><line x1="477.6" y1="131.3" x2="477.6" y2="130.1" stroke="#4a4a4a" stroke-width="0.8"/><line x1="494.5" y1="131.3" x2="494.5" y2="129.1" stroke="#4a4a4a" stroke-width="0.8"/><line x1="511.4" y1="131.3" x2="511.4" y2="130.1" stroke="#4a4a4a" stroke-width="0.8"/><line x1="528.3" y1="131.3" x2="528.3" y2="129.1" stroke="#4a4a4a" stroke-width="0.8"/><text x="393.1" y="139.1" font-size="5.3" text-anchor="middle" fill="#111" class="tk">2</text><text x="426.9" y="139.1" font-size="5.3" text-anchor="middle" fill="#111" class="tk">3</text><text x="460.7" y="139.1" font-size="5.3" text-anchor="middle" fill="#111" class="tk">4</text><text x="494.5" y="139.1" font-size="5.3" text-anchor="middle" fill="#111" class="tk">5</text><text x="528.3" y="139.1" font-size="5.3" text-anchor="middle" fill="#111" class="tk">6</text><text x="390.8" y="44.9" font-size="5.2" text-anchor="end" fill="#222" class="tk">10<tspan font-size="3.5" dy="-2">2</tspan></text><text x="390.8" y="84.7" font-size="5.2" text-anchor="end" fill="#222" class="tk">10<tspan font-size="3.5" dy="-2">1</tspan></text><text x="390.8" y="124.2" font-size="5.2" text-anchor="end" fill="#222" class="tk">10<tspan font-size="3.5" dy="-2">0</tspan></text><text x="473.2" y="149" font-size="8.95" text-anchor="middle" fill="#111">Voltage (V)</text><text transform="translate(379.2,69.8) rotate(-90)" font-size="8.1" text-anchor="middle" fill="#111">Luminance (cd cm<tspan font-size="5" dy="-2.5">-2</tspan><tspan dy="2.5">)</tspan></text><text x="376.3" y="12.3" font-size="11" text-anchor="middle" fill="#111">(c)</text><g clip-path="url(#cc)"><polyline points="420.14,133 426.9,108 433.66,94.1 440.42,76.3 447.18,66.1 453.94,58.2 460.7,51.3 467.46,47.8 474.22,44.8 480.98,43.2 487.74,42.1 494.5,41.8 501.26,42.4 508.02,43 514.78,43.7 521.54,44.8 528.3,46.2 535.06,47.6" fill="none" stroke="#c9c222" stroke-width="0.75" stroke-linejoin="round"/><polygon points="420.14,131.38 421.77,133 420.14,134.62 418.52,133" fill="#c9c222"/><polygon points="426.9,106.38 428.53,108 426.9,109.62 425.28,108" fill="#c9c222"/><polygon points="433.66,92.47 435.29,94.1 433.66,95.72 432.04,94.1" fill="#c9c222"/><polygon points="440.42,74.67 442.05,76.3 440.42,77.92 438.8,76.3" fill="#c9c222"/><polygon points="447.18,64.47 448.81,66.1 447.18,67.72 445.56,66.1" fill="#c9c222"/><polygon points="453.94,56.58 455.56,58.2 453.94,59.83 452.31,58.2" fill="#c9c222"/><polygon points="460.7,49.67 462.33,51.3 460.7,52.92 459.08,51.3" fill="#c9c222"/><polygon points="467.46,46.17 469.09,47.8 467.46,49.42 465.84,47.8" fill="#c9c222"/><polygon points="474.22,43.17 475.85,44.8 474.22,46.42 472.6,44.8" fill="#c9c222"/><polygon points="480.98,41.58 482.61,43.2 480.98,44.83 479.36,43.2" fill="#c9c222"/><polygon points="487.74,40.48 489.37,42.1 487.74,43.73 486.12,42.1" fill="#c9c222"/><polygon points="494.5,40.17 496.12,41.8 494.5,43.42 492.88,41.8" fill="#c9c222"/><polygon points="501.26,40.77 502.88,42.4 501.26,44.02 499.63,42.4" fill="#c9c222"/><polygon points="508.02,41.38 509.65,43 508.02,44.62 506.4,43" fill="#c9c222"/><polygon points="514.78,42.08 516.4,43.7 514.78,45.33 513.15,43.7" fill="#c9c222"/><polygon points="521.54,43.17 523.16,44.8 521.54,46.42 519.91,44.8" fill="#c9c222"/><polygon points="528.3,44.58 529.92,46.2 528.3,47.83 526.67,46.2" fill="#c9c222"/><polygon points="535.06,45.98 536.69,47.6 535.06,49.23 533.44,47.6" fill="#c9c222"/></g><g clip-path="url(#cc)"><polyline points="440.42,110.7 447.18,103.6 453.94,72.1 460.7,66.1 467.46,57.5 474.22,48.7 480.98,40.7 487.74,36.9 494.5,33.6 501.26,30.7 508.02,28.2 514.78,26.8 521.54,25.7 528.3,25.5 535.06,25.7 541.82,26.8 548.58,28" fill="none" stroke="#fa3c22" stroke-width="0.75" stroke-linejoin="round"/><circle cx="440.42" cy="110.7" r="1.3" fill="#fa3c22"/><circle cx="440.42" cy="110.7" r="0.49" fill="#ff9d90"/><circle cx="447.18" cy="103.6" r="1.3" fill="#fa3c22"/><circle cx="447.18" cy="103.6" r="0.49" fill="#ff9d90"/><circle cx="453.94" cy="72.1" r="1.3" fill="#fa3c22"/><circle cx="453.94" cy="72.1" r="0.49" fill="#ff9d90"/><circle cx="460.7" cy="66.1" r="1.3" fill="#fa3c22"/><circle cx="460.7" cy="66.1" r="0.49" fill="#ff9d90"/><circle cx="467.46" cy="57.5" r="1.3" fill="#fa3c22"/><circle cx="467.46" cy="57.5" r="0.49" fill="#ff9d90"/><circle cx="474.22" cy="48.7" r="1.3" fill="#fa3c22"/><circle cx="474.22" cy="48.7" r="0.49" fill="#ff9d90"/><circle cx="480.98" cy="40.7" r="1.3" fill="#fa3c22"/><circle cx="480.98" cy="40.7" r="0.49" fill="#ff9d90"/><circle cx="487.74" cy="36.9" r="1.3" fill="#fa3c22"/><circle cx="487.74" cy="36.9" r="0.49" fill="#ff9d90"/><circle cx="494.5" cy="33.6" r="1.3" fill="#fa3c22"/><circle cx="494.5" cy="33.6" r="0.49" fill="#ff9d90"/><circle cx="501.26" cy="30.7" r="1.3" fill="#fa3c22"/><circle cx="501.26" cy="30.7" r="0.49" fill="#ff9d90"/><circle cx="508.02" cy="28.2" r="1.3" fill="#fa3c22"/><circle cx="508.02" cy="28.2" r="0.49" fill="#ff9d90"/><circle cx="514.78" cy="26.8" r="1.3" fill="#fa3c22"/><circle cx="514.78" cy="26.8" r="0.49" fill="#ff9d90"/><circle cx="521.54" cy="25.7" r="1.3" fill="#fa3c22"/><circle cx="521.54" cy="25.7" r="0.49" fill="#ff9d90"/><circle cx="528.3" cy="25.5" r="1.3" fill="#fa3c22"/><circle cx="528.3" cy="25.5" r="0.49" fill="#ff9d90"/><circle cx="535.06" cy="25.7" r="1.3" fill="#fa3c22"/><circle cx="535.06" cy="25.7" r="0.49" fill="#ff9d90"/><circle cx="541.82" cy="26.8" r="1.3" fill="#fa3c22"/><circle cx="541.82" cy="26.8" r="0.49" fill="#ff9d90"/><circle cx="548.58" cy="28" r="1.3" fill="#fa3c22"/><circle cx="548.58" cy="28" r="0.49" fill="#ff9d90"/></g><g clip-path="url(#cc)"><polyline points="420.14,135.6 426.9,115.6 433.66,44.4 440.42,35.6 447.18,30.2 453.94,26.6 460.7,24 467.46,22.3 474.22,21.6 480.98,21.9 487.74,23.3 494.5,25.1 501.26,26.4 508.02,28.2 514.78,30.5 521.54,33.2" fill="none" stroke="#d222ee" stroke-width="0.75" stroke-linejoin="round"/><circle cx="420.14" cy="135.6" r="1.3" fill="#d222ee"/><circle cx="426.9" cy="115.6" r="1.3" fill="#d222ee"/><circle cx="433.66" cy="44.4" r="1.3" fill="#d222ee"/><circle cx="440.42" cy="35.6" r="1.3" fill="#d222ee"/><circle cx="447.18" cy="30.2" r="1.3" fill="#d222ee"/><circle cx="453.94" cy="26.6" r="1.3" fill="#d222ee"/><circle cx="460.7" cy="24" r="1.3" fill="#d222ee"/><circle cx="467.46" cy="22.3" r="1.3" fill="#d222ee"/><circle cx="474.22" cy="21.6" r="1.3" fill="#d222ee"/><circle cx="480.98" cy="21.9" r="1.3" fill="#d222ee"/><circle cx="487.74" cy="23.3" r="1.3" fill="#d222ee"/><circle cx="494.5" cy="25.1" r="1.3" fill="#d222ee"/><circle cx="501.26" cy="26.4" r="1.3" fill="#d222ee"/><circle cx="508.02" cy="28.2" r="1.3" fill="#d222ee"/><circle cx="514.78" cy="30.5" r="1.3" fill="#d222ee"/><circle cx="521.54" cy="33.2" r="1.3" fill="#d222ee"/></g><g clip-path="url(#cc)"><polyline points="413.38,128.9 420.14,110.2 426.9,80.7 433.66,60.2 440.42,47.1 447.18,38.9 453.94,32.5 460.7,27 467.46,23.2 474.22,19.6 480.98,17.5 487.74,16.9 494.5,18.2 501.26,22.8 508.02,26.6 514.78,28.2 521.54,29.6 528.3,31.2 535.06,33.6 541.82,37.7 548.58,43" fill="none" stroke="#1aaeb6" stroke-width="0.75" stroke-linejoin="round"/><polygon points="413.38,127.41 414.81,129.94 411.95,129.94" fill="#1aaeb6"/><polygon points="420.14,108.7 421.57,111.24 418.71,111.24" fill="#1aaeb6"/><polygon points="426.9,79.2 428.33,81.74 425.47,81.74" fill="#1aaeb6"/><polygon points="433.66,58.71 435.09,61.24 432.23,61.24" fill="#1aaeb6"/><polygon points="440.42,45.61 441.85,48.14 438.99,48.14" fill="#1aaeb6"/><polygon points="447.18,37.41 448.61,39.94 445.75,39.94" fill="#1aaeb6"/><polygon points="453.94,31 455.37,33.54 452.51,33.54" fill="#1aaeb6"/><polygon points="460.7,25.5 462.13,28.04 459.27,28.04" fill="#1aaeb6"/><polygon points="467.46,21.7 468.89,24.24 466.03,24.24" fill="#1aaeb6"/><polygon points="474.22,18.11 475.65,20.64 472.79,20.64" fill="#1aaeb6"/><polygon points="480.98,16 482.41,18.54 479.55,18.54" fill="#1aaeb6"/><polygon points="487.74,15.4 489.17,17.94 486.31,17.94" fill="#1aaeb6"/><polygon points="494.5,16.7 495.93,19.24 493.07,19.24" fill="#1aaeb6"/><polygon points="501.26,21.3 502.69,23.84 499.83,23.84" fill="#1aaeb6"/><polygon points="508.02,25.11 509.45,27.64 506.59,27.64" fill="#1aaeb6"/><polygon points="514.78,26.7 516.21,29.24 513.35,29.24" fill="#1aaeb6"/><polygon points="521.54,28.11 522.97,30.64 520.11,30.64" fill="#1aaeb6"/><polygon points="528.3,29.7 529.73,32.24 526.87,32.24" fill="#1aaeb6"/><polygon points="535.06,32.11 536.49,34.64 533.63,34.64" fill="#1aaeb6"/><polygon points="541.82,36.21 543.25,38.74 540.39,38.74" fill="#1aaeb6"/><polygon points="548.58,41.51 550.01,44.04 547.15,44.04" fill="#1aaeb6"/></g><g clip-path="url(#cc)"><polyline points="420.14,125.7 426.9,99.8 433.66,87.9 440.42,68.8 447.18,56.1 453.94,38.9 460.7,35.3 467.46,31.2 474.22,27.8 480.98,24.4 487.74,21.4 494.5,18.9 501.26,17 508.02,14.5 514.78,12.8 521.54,12.4 528.3,13.5 535.06,15.9 541.82,18.2 548.58,21.5" fill="none" stroke="#1ccf8c" stroke-width="0.75" stroke-linejoin="round"/><rect x="418.84" y="124.4" width="2.6" height="2.6" fill="#1ccf8c"/><rect x="425.6" y="98.5" width="2.6" height="2.6" fill="#1ccf8c"/><rect x="432.36" y="86.6" width="2.6" height="2.6" fill="#1ccf8c"/><rect x="439.12" y="67.5" width="2.6" height="2.6" fill="#1ccf8c"/><rect x="445.88" y="54.8" width="2.6" height="2.6" fill="#1ccf8c"/><rect x="452.64" y="37.6" width="2.6" height="2.6" fill="#1ccf8c"/><rect x="459.4" y="34" width="2.6" height="2.6" fill="#1ccf8c"/><rect x="466.16" y="29.9" width="2.6" height="2.6" fill="#1ccf8c"/><rect x="472.92" y="26.5" width="2.6" height="2.6" fill="#1ccf8c"/><rect x="479.68" y="23.1" width="2.6" height="2.6" fill="#1ccf8c"/><rect x="486.44" y="20.1" width="2.6" height="2.6" fill="#1ccf8c"/><rect x="493.2" y="17.6" width="2.6" height="2.6" fill="#1ccf8c"/><rect x="499.96" y="15.7" width="2.6" height="2.6" fill="#1ccf8c"/><rect x="506.72" y="13.2" width="2.6" height="2.6" fill="#1ccf8c"/><rect x="513.48" y="11.5" width="2.6" height="2.6" fill="#1ccf8c"/><rect x="520.24" y="11.1" width="2.6" height="2.6" fill="#1ccf8c"/><rect x="527" y="12.2" width="2.6" height="2.6" fill="#1ccf8c"/><rect x="533.76" y="14.6" width="2.6" height="2.6" fill="#1ccf8c"/><rect x="540.52" y="16.9" width="2.6" height="2.6" fill="#1ccf8c"/><rect x="547.28" y="20.2" width="2.6" height="2.6" fill="#1ccf8c"/></g><polygon points="399.86,119.44 401.07,121.58 398.65,121.58" fill="#1aaeb6"/><rect x="398.86" y="129.7" width="2" height="2" fill="#1ccf8c"/><line x1="473.2" y1="67.9" x2="487.9" y2="67.9" stroke="#fa3c22" stroke-width="0.9"/><circle cx="480.7" cy="67.9" r="1.2" fill="#fa3c22"/><circle cx="480.7" cy="67.9" r="0.46" fill="#ff9d90"/><text x="489.3" y="69.93" font-size="5.8" text-anchor="start" fill="#111">0:5</text><line x1="473.2" y1="76.1" x2="487.9" y2="76.1" stroke="#1ccf8c" stroke-width="0.9"/><rect x="479.5" y="74.9" width="2.4" height="2.4" fill="#1ccf8c"/><text x="489.3" y="78.13" font-size="5.8" text-anchor="start" fill="#111">1:4</text><line x1="473.2" y1="84.1" x2="487.9" y2="84.1" stroke="#1aaeb6" stroke-width="0.9"/><polygon points="480.7,82.72 482.02,85.06 479.38,85.06" fill="#1aaeb6"/><text x="489.3" y="86.13" font-size="5.8" text-anchor="start" fill="#111">2:3</text><line x1="473.2" y1="92.1" x2="487.9" y2="92.1" stroke="#d222ee" stroke-width="0.9"/><circle cx="480.7" cy="92.1" r="1.2" fill="#d222ee"/><text x="489.3" y="94.13" font-size="5.8" text-anchor="start" fill="#111">3:2</text><line x1="473.2" y1="100.5" x2="487.9" y2="100.5" stroke="#c9c222" stroke-width="0.9"/><polygon points="480.7,99 482.2,100.5 480.7,102 479.2,100.5" fill="#c9c222"/><text x="489.3" y="102.53" font-size="5.8" text-anchor="start" fill="#111">4:1</text>
<rect x="26" y="162" width="153.2" height="123.2" fill="none" stroke="#4a4a4a" stroke-width="1"/><line x1="26" y1="285.2" x2="26" y2="283" stroke="#4a4a4a" stroke-width="0.8"/><line x1="45.15" y1="285.2" x2="45.15" y2="284" stroke="#4a4a4a" stroke-width="0.8"/><line x1="64.3" y1="285.2" x2="64.3" y2="283" stroke="#4a4a4a" stroke-width="0.8"/><line x1="83.45" y1="285.2" x2="83.45" y2="284" stroke="#4a4a4a" stroke-width="0.8"/><line x1="102.6" y1="285.2" x2="102.6" y2="283" stroke="#4a4a4a" stroke-width="0.8"/><line x1="121.75" y1="285.2" x2="121.75" y2="284" stroke="#4a4a4a" stroke-width="0.8"/><line x1="140.9" y1="285.2" x2="140.9" y2="283" stroke="#4a4a4a" stroke-width="0.8"/><line x1="160.05" y1="285.2" x2="160.05" y2="284" stroke="#4a4a4a" stroke-width="0.8"/><line x1="179.2" y1="285.2" x2="179.2" y2="283" stroke="#4a4a4a" stroke-width="0.8"/><text x="26" y="290.6" font-size="5.3" text-anchor="middle" fill="#111" class="tk">400</text><text x="64.3" y="290.6" font-size="5.3" text-anchor="middle" fill="#111" class="tk">450</text><text x="102.6" y="290.6" font-size="5.3" text-anchor="middle" fill="#111" class="tk">500</text><text x="140.9" y="290.6" font-size="5.3" text-anchor="middle" fill="#111" class="tk">550</text><text x="179.2" y="290.6" font-size="5.3" text-anchor="middle" fill="#111" class="tk">600</text><text x="102.2" y="301.7" font-size="8.35" text-anchor="middle" fill="#111">Wavelength (nm)</text><text transform="translate(15.8,220.5) rotate(-90)" font-size="8.5" text-anchor="middle" fill="#111">EL intensity (a.u.)</text><text x="8.9" y="167.6" font-size="11" text-anchor="middle" fill="#111">(d)</text><g clip-path="url(#cd)"><polyline points="26,284.78 26.5,284.78 27,284.77 27.5,284.76 28,284.76 28.5,284.75 29,284.74 29.5,284.73 30,284.73 30.5,284.72 31,284.71 31.5,284.7 32,284.69 32.5,284.69 33,284.68 33.5,284.67 34,284.66 34.5,284.65 35,284.64 35.5,284.63 36,284.62 36.5,284.61 37,284.6 37.5,284.59 38,284.57 38.5,284.56 39,284.55 39.5,284.54 40,284.53 40.5,284.51 41,284.5 41.5,284.48 42,284.47 42.5,284.46 43,284.44 43.5,284.42 44,284.41 44.5,284.39 45,284.37 45.5,284.36 46,284.34 46.5,284.32 47,284.3 47.5,284.28 48,284.26 48.5,284.23 49,284.21 49.5,284.19 50,284.16 50.5,284.14 51,284.11 51.5,284.08 52,284.05 52.5,284.02 53,283.98 53.5,283.95 54,283.91 54.5,283.87 55,283.82 55.5,283.77 56,283.72 56.5,283.66 57,283.6 57.5,283.53 58,283.45 58.5,283.37 59,283.28 59.5,283.17 60,283.05 60.5,282.92 61,282.77 61.5,282.61 62,282.42 62.5,282.21 63,281.97 63.5,281.71 64,281.41 64.5,281.07 65,280.69 65.5,280.27 66,279.79 66.5,279.27 67,278.67 67.5,278.02 68,277.29 68.5,276.48 69,275.59 69.5,274.61 70,273.53 70.5,272.35 71,271.07 71.5,269.67 72,268.15 72.5,266.51 73,264.75 73.5,262.86 74,260.83 74.5,258.67 75,256.38 75.5,253.96 76,251.41 76.5,248.74 77,245.94 77.5,243.03 78,240.02 78.5,236.91 79,233.72 79.5,230.46 80,227.15 80.5,223.8 81,220.43 81.5,217.05 82,213.7 82.5,210.4 83,207.16 83.5,204.01 84,200.98 84.5,198.09 85,195.37 85.5,192.84 86,190.53 86.5,188.46 87,186.66 87.5,185.14 88,183.92 88.5,183.02 89,182.44 89.5,182.21 90,182.4 90.5,183.19 91,184.58 91.5,186.53 92,188.99 92.5,191.9 93,195.21 93.5,198.85 94,202.76 94.5,206.88 95,211.14 95.5,215.49 96,219.88 96.5,224.26 97,228.58 97.5,232.81 98,236.92 98.5,240.88 99,244.66 99.5,248.25 100,251.63 100.5,254.8 101,257.75 101.5,260.47 102,262.97 102.5,265.26 103,267.34 103.5,269.22 104,270.91 104.5,272.43 105,273.78 105.5,274.97 106,276.03 106.5,276.96 107,277.78 107.5,278.49 108,279.11 108.5,279.66 109,280.13 109.5,280.55 110,280.9 110.5,281.22 111,281.49 111.5,281.73 112,281.94 112.5,282.13 113,282.29 113.5,282.44 114,282.57 114.5,282.69 115,282.8 115.5,282.9 116,282.99 116.5,283.07 117,283.15 117.5,283.22 118,283.29 118.5,283.36 119,283.42 119.5,283.47 120,283.53 120.5,283.58 121,283.63 121.5,283.67 122,283.72 122.5,283.76 123,283.8 123.5,283.84 124,283.88 124.5,283.91 125,283.95 125.5,283.98 126,284.01 126.5,284.04 127,284.07 127.5,284.1 128,284.13 128.5,284.15 129,284.18 129.5,284.2 130,284.23 130.5,284.25 131,284.27 131.5,284.29 132,284.31 132.5,284.33 133,284.35 133.5,284.37 134,284.39 134.5,284.41 135,284.42 135.5,284.44 136,284.46 136.5,284.47 137,284.49 137.5,284.5 138,284.51 138.5,284.53 139,284.54 139.5,284.55 140,284.57 140.5,284.58 141,284.59 141.5,284.6 142,284.61 142.5,284.62 143,284.63 143.5,284.64 144,284.65 144.5,284.66 145,284.67 145.5,284.68 146,284.69 146.5,284.7 147,284.71 147.5,284.72 148,284.72 148.5,284.73 149,284.74 149.5,284.75 150,284.76 150.5,284.76 151,284.77 151.5,284.78 152,284.78 152.5,284.79 153,284.8 153.5,284.8 154,284.81 154.5,284.81 155,284.82 155.5,284.83 156,284.83 156.5,284.84 157,284.84 157.5,284.85 158,284.85 158.5,284.86 159,284.86 159.5,284.87 160,284.87 160.5,284.88 161,284.88 161.5,284.88 162,284.89 162.5,284.89 163,284.9 163.5,284.9 164,284.91 164.5,284.91 165,284.91 165.5,284.92 166,284.92 166.5,284.92 167,284.93 167.5,284.93 168,284.93 168.5,284.94 169,284.94 169.5,284.94 170,284.95 170.5,284.95 171,284.95 171.5,284.96 172,284.96 172.5,284.96 173,284.96 173.5,284.97 174,284.97 174.5,284.97 175,284.98 175.5,284.98 176,284.98 176.5,284.98 177,284.99 177.5,284.99 178,284.99 178.5,284.99 179,285" fill="none" stroke="#c9c222" stroke-width="0.9" stroke-linejoin="round"/></g><g clip-path="url(#cd)"><polyline points="26,284.83 26.5,284.82 27,284.81 27.5,284.81 28,284.8 28.5,284.8 29,284.79 29.5,284.78 30,284.78 30.5,284.77 31,284.76 31.5,284.76 32,284.75 32.5,284.74 33,284.73 33.5,284.72 34,284.72 34.5,284.71 35,284.7 35.5,284.69 36,284.68 36.5,284.67 37,284.66 37.5,284.65 38,284.64 38.5,284.63 39,284.62 39.5,284.61 40,284.6 40.5,284.59 41,284.57 41.5,284.56 42,284.55 42.5,284.54 43,284.52 43.5,284.51 44,284.49 44.5,284.48 45,284.46 45.5,284.45 46,284.43 46.5,284.42 47,284.4 47.5,284.38 48,284.36 48.5,284.34 49,284.32 49.5,284.3 50,284.28 50.5,284.26 51,284.24 51.5,284.21 52,284.19 52.5,284.16 53,284.13 53.5,284.1 54,284.07 54.5,284.04 55,284.01 55.5,283.97 56,283.93 56.5,283.89 57,283.84 57.5,283.79 58,283.74 58.5,283.68 59,283.62 59.5,283.55 60,283.47 60.5,283.38 61,283.29 61.5,283.18 62,283.06 62.5,282.92 63,282.76 63.5,282.59 64,282.39 64.5,282.17 65,281.91 65.5,281.62 66,281.3 66.5,280.93 67,280.52 67.5,280.05 68,279.52 68.5,278.94 69,278.28 69.5,277.54 70,276.72 70.5,275.81 71,274.81 71.5,273.7 72,272.48 72.5,271.14 73,269.68 73.5,268.09 74,266.37 74.5,264.51 75,262.51 75.5,260.36 76,258.07 76.5,255.63 77,253.05 77.5,250.33 78,247.48 78.5,244.49 79,241.39 79.5,238.18 80,234.87 80.5,231.48 81,228.03 81.5,224.53 82,221.01 82.5,217.48 83,213.97 83.5,210.51 84,207.12 84.5,203.83 85,200.67 85.5,197.66 86,194.85 86.5,192.25 87,189.9 87.5,187.82 88,186.03 88.5,184.57 89,183.45 89.5,182.67 90,182.27 90.5,182.27 91,183.03 91.5,184.62 92,186.96 92.5,189.98 93,193.59 93.5,197.67 94,202.12 94.5,206.84 95,211.72 95.5,216.69 96,221.67 96.5,226.59 97,231.39 97.5,236.02 98,240.46 98.5,244.65 99,248.59 99.5,252.26 100,255.65 100.5,258.75 101,261.58 101.5,264.14 102,266.43 102.5,268.48 103,270.3 103.5,271.9 104,273.31 104.5,274.54 105,275.61 105.5,276.55 106,277.36 106.5,278.06 107,278.66 107.5,279.19 108,279.64 108.5,280.04 109,280.39 109.5,280.69 110,280.96 110.5,281.2 111,281.41 111.5,281.6 112,281.77 112.5,281.93 113,282.07 113.5,282.2 114,282.33 114.5,282.44 115,282.55 115.5,282.65 116,282.74 116.5,282.83 117,282.91 117.5,282.99 118,283.07 118.5,283.14 119,283.2 119.5,283.27 120,283.33 120.5,283.39 121,283.44 121.5,283.5 122,283.55 122.5,283.6 123,283.64 123.5,283.69 124,283.73 124.5,283.77 125,283.81 125.5,283.85 126,283.88 126.5,283.92 127,283.95 127.5,283.99 128,284.02 128.5,284.05 129,284.07 129.5,284.1 130,284.13 130.5,284.15 131,284.18 131.5,284.2 132,284.23 132.5,284.25 133,284.27 133.5,284.29 134,284.31 134.5,284.33 135,284.35 135.5,284.37 136,284.39 136.5,284.4 137,284.42 137.5,284.44 138,284.45 138.5,284.47 139,284.48 139.5,284.5 140,284.51 140.5,284.52 141,284.54 141.5,284.55 142,284.56 142.5,284.57 143,284.58 143.5,284.6 144,284.61 144.5,284.62 145,284.63 145.5,284.64 146,284.65 146.5,284.66 147,284.67 147.5,284.68 148,284.68 148.5,284.69 149,284.7 149.5,284.71 150,284.72 150.5,284.73 151,284.73 151.5,284.74 152,284.75 152.5,284.76 153,284.76 153.5,284.77 154,284.78 154.5,284.78 155,284.79 155.5,284.8 156,284.8 156.5,284.81 157,284.81 157.5,284.82 158,284.82 158.5,284.83 159,284.84 159.5,284.84 160,284.85 160.5,284.85 161,284.86 161.5,284.86 162,284.86 162.5,284.87 163,284.87 163.5,284.88 164,284.88 164.5,284.89 165,284.89 165.5,284.89 166,284.9 166.5,284.9 167,284.91 167.5,284.91 168,284.91 168.5,284.92 169,284.92 169.5,284.92 170,284.93 170.5,284.93 171,284.93 171.5,284.94 172,284.94 172.5,284.94 173,284.95 173.5,284.95 174,284.95 174.5,284.96 175,284.96 175.5,284.96 176,284.96 176.5,284.97 177,284.97 177.5,284.97 178,284.98 178.5,284.98 179,284.98" fill="none" stroke="#1ccf8c" stroke-width="0.9" stroke-linejoin="round"/></g><g clip-path="url(#cd)"><polyline points="26,284.75 26.5,284.75 27,284.74 27.5,284.73 28,284.72 28.5,284.72 29,284.71 29.5,284.7 30,284.69 30.5,284.69 31,284.68 31.5,284.67 32,284.66 32.5,284.65 33,284.64 33.5,284.63 34,284.62 34.5,284.61 35,284.6 35.5,284.59 36,284.58 36.5,284.57 37,284.56 37.5,284.55 38,284.53 38.5,284.52 39,284.51 39.5,284.5 40,284.48 40.5,284.47 41,284.45 41.5,284.44 42,284.42 42.5,284.41 43,284.39 43.5,284.38 44,284.36 44.5,284.34 45,284.32 45.5,284.3 46,284.29 46.5,284.27 47,284.25 47.5,284.22 48,284.2 48.5,284.18 49,284.16 49.5,284.13 50,284.11 50.5,284.08 51,284.05 51.5,284.03 52,284 52.5,283.97 53,283.94 53.5,283.9 54,283.87 54.5,283.83 55,283.8 55.5,283.76 56,283.72 56.5,283.67 57,283.63 57.5,283.58 58,283.53 58.5,283.48 59,283.42 59.5,283.35 60,283.29 60.5,283.21 61,283.13 61.5,283.04 62,282.95 62.5,282.84 63,282.72 63.5,282.59 64,282.44 64.5,282.27 65,282.09 65.5,281.88 66,281.64 66.5,281.37 67,281.07 67.5,280.73 68,280.34 68.5,279.91 69,279.42 69.5,278.87 70,278.25 70.5,277.55 71,276.78 71.5,275.91 72,274.95 72.5,273.88 73,272.71 73.5,271.41 74,269.98 74.5,268.42 75,266.72 75.5,264.88 76,262.89 76.5,260.74 77,258.44 77.5,255.98 78,253.36 78.5,250.6 79,247.68 79.5,244.62 80,241.44 80.5,238.13 81,234.71 81.5,231.2 82,227.62 82.5,223.99 83,220.32 83.5,216.65 84,213.01 84.5,209.41 85,205.9 85.5,202.5 86,199.26 86.5,196.19 87,193.35 87.5,190.76 88,188.46 88.5,186.48 89,184.85 89.5,183.6 90,182.73 90.5,182.27 91,182.31 91.5,183.52 92,186.01 92.5,189.6 93,194.11 93.5,199.31 94,204.96 94.5,210.89 95,216.9 95.5,222.87 96,228.67 96.5,234.23 97,239.47 97.5,244.35 98,248.85 98.5,252.95 99,256.65 99.5,259.95 100,262.89 100.5,265.46 101,267.72 101.5,269.67 102,271.36 102.5,272.82 103,274.06 103.5,275.13 104,276.05 104.5,276.83 105,277.51 105.5,278.09 106,278.6 106.5,279.05 107,279.44 107.5,279.79 108,280.1 108.5,280.38 109,280.63 109.5,280.86 110,281.08 110.5,281.27 111,281.45 111.5,281.62 112,281.78 112.5,281.93 113,282.06 113.5,282.19 114,282.31 114.5,282.43 115,282.54 115.5,282.64 116,282.73 116.5,282.82 117,282.91 117.5,282.99 118,283.07 118.5,283.14 119,283.21 119.5,283.28 120,283.34 120.5,283.4 121,283.46 121.5,283.51 122,283.56 122.5,283.61 123,283.66 123.5,283.71 124,283.75 124.5,283.79 125,283.83 125.5,283.87 126,283.91 126.5,283.94 127,283.97 127.5,284.01 128,284.04 128.5,284.07 129,284.1 129.5,284.12 130,284.15 130.5,284.18 131,284.2 131.5,284.23 132,284.25 132.5,284.27 133,284.29 133.5,284.31 134,284.33 134.5,284.35 135,284.37 135.5,284.39 136,284.41 136.5,284.42 137,284.44 137.5,284.46 138,284.47 138.5,284.49 139,284.5 139.5,284.52 140,284.53 140.5,284.54 141,284.56 141.5,284.57 142,284.58 142.5,284.59 143,284.6 143.5,284.61 144,284.63 144.5,284.64 145,284.65 145.5,284.66 146,284.67 146.5,284.68 147,284.68 147.5,284.69 148,284.7 148.5,284.71 149,284.72 149.5,284.73 150,284.73 150.5,284.74 151,284.75 151.5,284.76 152,284.76 152.5,284.77 153,284.78 153.5,284.78 154,284.79 154.5,284.8 155,284.8 155.5,284.81 156,284.82 156.5,284.82 157,284.83 157.5,284.83 158,284.84 158.5,284.84 159,284.85 159.5,284.85 160,284.86 160.5,284.86 161,284.87 161.5,284.87 162,284.88 162.5,284.88 163,284.89 163.5,284.89 164,284.89 164.5,284.9 165,284.9 165.5,284.91 166,284.91 166.5,284.91 167,284.92 167.5,284.92 168,284.93 168.5,284.93 169,284.93 169.5,284.94 170,284.94 170.5,284.94 171,284.95 171.5,284.95 172,284.95 172.5,284.95 173,284.96 173.5,284.96 174,284.96 174.5,284.97 175,284.97 175.5,284.97 176,284.97 176.5,284.98 177,284.98 177.5,284.98 178,284.98 178.5,284.99 179,284.99" fill="none" stroke="#1aaeb6" stroke-width="0.9" stroke-linejoin="round"/></g><g clip-path="url(#cd)"><polyline points="26,284.78 26.5,284.77 27,284.77 27.5,284.76 28,284.76 28.5,284.75 29,284.74 29.5,284.73 30,284.73 30.5,284.72 31,284.71 31.5,284.7 32,284.7 32.5,284.69 33,284.68 33.5,284.67 34,284.66 34.5,284.65 35,284.64 35.5,284.63 36,284.62 36.5,284.61 37,284.6 37.5,284.59 38,284.58 38.5,284.57 39,284.56 39.5,284.55 40,284.53 40.5,284.52 41,284.51 41.5,284.5 42,284.48 42.5,284.47 43,284.45 43.5,284.44 44,284.42 44.5,284.41 45,284.39 45.5,284.38 46,284.36 46.5,284.34 47,284.32 47.5,284.3 48,284.28 48.5,284.26 49,284.24 49.5,284.22 50,284.2 50.5,284.18 51,284.15 51.5,284.13 52,284.1 52.5,284.08 53,284.05 53.5,284.02 54,283.99 54.5,283.96 55,283.93 55.5,283.89 56,283.86 56.5,283.82 57,283.78 57.5,283.74 58,283.7 58.5,283.66 59,283.61 59.5,283.56 60,283.51 60.5,283.45 61,283.39 61.5,283.32 62,283.25 62.5,283.18 63,283.09 63.5,283 64,282.89 64.5,282.78 65,282.65 65.5,282.51 66,282.35 66.5,282.17 67,281.97 67.5,281.74 68,281.48 68.5,281.19 69,280.86 69.5,280.49 70,280.06 70.5,279.59 71,279.05 71.5,278.45 72,277.77 72.5,277.01 73,276.16 73.5,275.21 74,274.16 74.5,273 75,271.71 75.5,270.3 76,268.75 76.5,267.05 77,265.21 77.5,263.22 78,261.07 78.5,258.76 79,256.29 79.5,253.67 80,250.88 80.5,247.95 81,244.86 81.5,241.64 82,238.3 82.5,234.85 83,231.3 83.5,227.67 84,223.99 84.5,220.29 85,216.57 85.5,212.88 86,209.24 86.5,205.69 87,202.27 87.5,198.99 88,195.91 88.5,193.06 89,190.47 89.5,188.18 90,186.22 90.5,184.63 91,183.42 91.5,182.62 92,182.23 92.5,182.39 93,183.57 93.5,185.75 94,188.83 94.5,192.68 95,197.15 95.5,202.09 96,207.35 96.5,212.8 97,218.31 97.5,223.78 98,229.14 98.5,234.31 99,239.23 99.5,243.87 100,248.2 100.5,252.19 101,255.84 101.5,259.15 102,262.13 102.5,264.79 103,267.14 103.5,269.21 104,271.01 104.5,272.58 105,273.94 105.5,275.11 106,276.12 106.5,276.99 107,277.73 107.5,278.37 108,278.91 108.5,279.39 109,279.8 109.5,280.16 110,280.47 110.5,280.75 111,281 111.5,281.22 112,281.42 112.5,281.6 113,281.77 113.5,281.92 114,282.07 114.5,282.2 115,282.32 115.5,282.44 116,282.55 116.5,282.65 117,282.75 117.5,282.84 118,282.92 118.5,283 119,283.08 119.5,283.15 120,283.22 120.5,283.29 121,283.35 121.5,283.41 122,283.47 122.5,283.52 123,283.58 123.5,283.62 124,283.67 124.5,283.72 125,283.76 125.5,283.8 126,283.84 126.5,283.88 127,283.92 127.5,283.95 128,283.99 128.5,284.02 129,284.05 129.5,284.08 130,284.11 130.5,284.13 131,284.16 131.5,284.19 132,284.21 132.5,284.24 133,284.26 133.5,284.28 134,284.3 134.5,284.32 135,284.34 135.5,284.36 136,284.38 136.5,284.4 137,284.42 137.5,284.43 138,284.45 138.5,284.46 139,284.48 139.5,284.5 140,284.51 140.5,284.52 141,284.54 141.5,284.55 142,284.56 142.5,284.58 143,284.59 143.5,284.6 144,284.61 144.5,284.62 145,284.63 145.5,284.64 146,284.65 146.5,284.66 147,284.67 147.5,284.68 148,284.69 148.5,284.7 149,284.71 149.5,284.72 150,284.73 150.5,284.73 151,284.74 151.5,284.75 152,284.76 152.5,284.76 153,284.77 153.5,284.78 154,284.78 154.5,284.79 155,284.8 155.5,284.8 156,284.81 156.5,284.82 157,284.82 157.5,284.83 158,284.83 158.5,284.84 159,284.84 159.5,284.85 160,284.85 160.5,284.86 161,284.86 161.5,284.87 162,284.87 162.5,284.88 163,284.88 163.5,284.89 164,284.89 164.5,284.9 165,284.9 165.5,284.9 166,284.91 166.5,284.91 167,284.92 167.5,284.92 168,284.92 168.5,284.93 169,284.93 169.5,284.93 170,284.94 170.5,284.94 171,284.94 171.5,284.95 172,284.95 172.5,284.95 173,284.96 173.5,284.96 174,284.96 174.5,284.96 175,284.97 175.5,284.97 176,284.97 176.5,284.98 177,284.98 177.5,284.98 178,284.98 178.5,284.99 179,284.99" fill="none" stroke="#d222ee" stroke-width="0.9" stroke-linejoin="round"/></g><g clip-path="url(#cd)"><polyline points="26,285.2 26.5,285.2 27,285.2 27.5,285.2 28,285.2 28.5,285.2 29,285.2 29.5,285.2 30,285.2 30.5,285.2 31,285.2 31.5,285.2 32,285.2 32.5,285.2 33,285.2 33.5,285.2 34,285.2 34.5,285.2 35,285.2 35.5,285.2 36,285.2 36.5,285.2 37,285.2 37.5,285.2 38,285.2 38.5,285.2 39,285.2 39.5,285.2 40,285.2 40.5,285.2 41,285.2 41.5,285.2 42,285.2 42.5,285.2 43,285.2 43.5,285.2 44,285.2 44.5,285.2 45,285.2 45.5,285.2 46,285.2 46.5,285.2 47,285.2 47.5,285.2 48,285.2 48.5,285.2 49,285.2 49.5,285.2 50,285.2 50.5,285.2 51,285.2 51.5,285.2 52,285.2 52.5,285.2 53,285.19 53.5,285.19 54,285.19 54.5,285.19 55,285.19 55.5,285.19 56,285.18 56.5,285.18 57,285.17 57.5,285.17 58,285.16 58.5,285.15 59,285.14 59.5,285.13 60,285.12 60.5,285.1 61,285.08 61.5,285.06 62,285.04 62.5,285.01 63,284.97 63.5,284.93 64,284.88 64.5,284.83 65,284.76 65.5,284.69 66,284.6 66.5,284.51 67,284.39 67.5,284.27 68,284.12 68.5,283.95 69,283.77 69.5,283.55 70,283.31 70.5,283.04 71,282.74 71.5,282.4 72,282.03 72.5,281.61 73,281.14 73.5,280.62 74,280.05 74.5,279.42 75,278.73 75.5,277.97 76,277.14 76.5,276.23 77,275.25 77.5,274.18 78,273.03 78.5,271.78 79,270.45 79.5,269.01 80,267.48 80.5,265.85 81,264.11 81.5,262.27 82,260.32 82.5,258.28 83,256.12 83.5,253.87 84,251.52 84.5,249.08 85,246.54 85.5,243.92 86,241.23 86.5,238.46 87,235.64 87.5,232.76 88,229.84 88.5,226.89 89,223.92 89.5,220.94 90,217.98 90.5,215.03 91,212.13 91.5,209.27 92,206.48 92.5,203.78 93,201.17 93.5,198.68 94,196.31 94.5,194.09 95,192.02 95.5,190.12 96,188.4 96.5,186.87 97,185.55 97.5,184.44 98,183.54 98.5,182.87 99,182.43 99.5,182.22 100,182.25 100.5,182.56 101,183.14 101.5,183.99 102,185.1 102.5,186.45 103,188.03 103.5,189.83 104,191.81 104.5,193.97 105,196.28 105.5,198.73 106,201.28 106.5,203.93 107,206.66 107.5,209.44 108,212.26 108.5,215.11 109,217.96 109.5,220.81 110,223.65 110.5,226.46 111,229.23 111.5,231.95 112,234.61 112.5,237.22 113,239.75 113.5,242.2 114,244.58 114.5,246.87 115,249.08 115.5,251.19 116,253.22 116.5,255.15 117,256.99 117.5,258.73 118,260.39 118.5,261.95 119,263.43 119.5,264.81 120,266.12 120.5,267.34 121,268.48 121.5,269.55 122,270.55 122.5,271.47 123,272.33 123.5,273.13 124,273.87 124.5,274.55 125,275.19 125.5,275.77 126,276.31 126.5,276.8 127,277.26 127.5,277.68 128,278.07 128.5,278.43 129,278.76 129.5,279.06 130,279.34 130.5,279.6 131,279.83 131.5,280.05 132,280.26 132.5,280.44 133,280.62 133.5,280.78 134,280.93 134.5,281.07 135,281.21 135.5,281.33 136,281.45 136.5,281.56 137,281.66 137.5,281.76 138,281.85 138.5,281.94 139,282.02 139.5,282.1 140,282.17 140.5,282.25 141,282.32 141.5,282.38 142,282.45 142.5,282.51 143,282.57 143.5,282.63 144,282.68 144.5,282.73 145,282.78 145.5,282.83 146,282.88 146.5,282.93 147,282.97 147.5,283.02 148,283.06 148.5,283.1 149,283.14 149.5,283.18 150,283.22 150.5,283.26 151,283.29 151.5,283.33 152,283.36 152.5,283.39 153,283.43 153.5,283.46 154,283.49 154.5,283.52 155,283.55 155.5,283.57 156,283.6 156.5,283.63 157,283.65 157.5,283.68 158,283.7 158.5,283.73 159,283.75 159.5,283.78 160,283.8 160.5,283.82 161,283.84 161.5,283.86 162,283.88 162.5,283.9 163,283.92 163.5,283.94 164,283.96 164.5,283.98 165,284 165.5,284.02 166,284.03 166.5,284.05 167,284.07 167.5,284.08 168,284.1 168.5,284.11 169,284.13 169.5,284.14 170,284.16 170.5,284.17 171,284.19 171.5,284.2 172,284.21 172.5,284.23 173,284.24 173.5,284.25 174,284.26 174.5,284.28 175,284.29 175.5,284.3 176,284.31 176.5,284.32 177,284.33 177.5,284.34 178,284.36 178.5,284.37 179,284.38" fill="none" stroke="#fa3c22" stroke-width="0.9" stroke-linejoin="round"/></g><line x1="149.9" y1="170.1" x2="162.9" y2="170.1" stroke="#fa3c22" stroke-width="0.9"/><text x="165" y="172.13" font-size="5.8" text-anchor="start" fill="#111">0:5</text><line x1="149.9" y1="177.6" x2="162.9" y2="177.6" stroke="#1ccf8c" stroke-width="0.9"/><text x="165" y="179.63" font-size="5.8" text-anchor="start" fill="#111">1:4</text><line x1="149.9" y1="184.7" x2="162.9" y2="184.7" stroke="#1aaeb6" stroke-width="0.9"/><text x="165" y="186.73" font-size="5.8" text-anchor="start" fill="#111">2:3</text><line x1="149.9" y1="192" x2="162.9" y2="192" stroke="#d222ee" stroke-width="0.9"/><text x="165" y="194.03" font-size="5.8" text-anchor="start" fill="#111">3:2</text><line x1="149.9" y1="199.7" x2="162.9" y2="199.7" stroke="#c9c222" stroke-width="0.9"/><text x="165" y="201.73" font-size="5.8" text-anchor="start" fill="#111">4:1</text>
<rect x="209.5" y="161" width="150" height="120.5" fill="none" stroke="#4a4a4a" stroke-width="1"/><line x1="209.5" y1="281.5" x2="211.7" y2="281.5" stroke="#4a4a4a" stroke-width="0.8"/><line x1="209.5" y1="269.4" x2="210.7" y2="269.4" stroke="#4a4a4a" stroke-width="0.8"/><line x1="209.5" y1="257.3" x2="211.7" y2="257.3" stroke="#4a4a4a" stroke-width="0.8"/><line x1="209.5" y1="245.2" x2="210.7" y2="245.2" stroke="#4a4a4a" stroke-width="0.8"/><line x1="209.5" y1="233.1" x2="211.7" y2="233.1" stroke="#4a4a4a" stroke-width="0.8"/><line x1="209.5" y1="221" x2="210.7" y2="221" stroke="#4a4a4a" stroke-width="0.8"/><line x1="209.5" y1="208.9" x2="211.7" y2="208.9" stroke="#4a4a4a" stroke-width="0.8"/><line x1="209.5" y1="196.8" x2="210.7" y2="196.8" stroke="#4a4a4a" stroke-width="0.8"/><line x1="209.5" y1="184.7" x2="211.7" y2="184.7" stroke="#4a4a4a" stroke-width="0.8"/><line x1="209.5" y1="172.6" x2="210.7" y2="172.6" stroke="#4a4a4a" stroke-width="0.8"/><line x1="209.5" y1="160.5" x2="211.7" y2="160.5" stroke="#4a4a4a" stroke-width="0.8"/><line x1="209.5" y1="281.5" x2="209.5" y2="279.3" stroke="#4a4a4a" stroke-width="0.8"/><line x1="220.79" y1="281.5" x2="220.79" y2="280.3" stroke="#4a4a4a" stroke-width="0.8"/><line x1="227.39" y1="281.5" x2="227.39" y2="280.3" stroke="#4a4a4a" stroke-width="0.8"/><line x1="232.08" y1="281.5" x2="232.08" y2="280.3" stroke="#4a4a4a" stroke-width="0.8"/><line x1="235.71" y1="281.5" x2="235.71" y2="280.3" stroke="#4a4a4a" stroke-width="0.8"/><line x1="238.68" y1="281.5" x2="238.68" y2="280.3" stroke="#4a4a4a" stroke-width="0.8"/><line x1="241.19" y1="281.5" x2="241.19" y2="280.3" stroke="#4a4a4a" stroke-width="0.8"/><line x1="243.37" y1="281.5" x2="243.37" y2="280.3" stroke="#4a4a4a" stroke-width="0.8"/><line x1="245.28" y1="281.5" x2="245.28" y2="280.3" stroke="#4a4a4a" stroke-width="0.8"/><line x1="247" y1="281.5" x2="247" y2="279.3" stroke="#4a4a4a" stroke-width="0.8"/><line x1="258.29" y1="281.5" x2="258.29" y2="280.3" stroke="#4a4a4a" stroke-width="0.8"/><line x1="264.89" y1="281.5" x2="264.89" y2="280.3" stroke="#4a4a4a" stroke-width="0.8"/><line x1="269.58" y1="281.5" x2="269.58" y2="280.3" stroke="#4a4a4a" stroke-width="0.8"/><line x1="273.21" y1="281.5" x2="273.21" y2="280.3" stroke="#4a4a4a" stroke-width="0.8"/><line x1="276.18" y1="281.5" x2="276.18" y2="280.3" stroke="#4a4a4a" stroke-width="0.8"/><line x1="278.69" y1="281.5" x2="278.69" y2="280.3" stroke="#4a4a4a" stroke-width="0.8"/><line x1="280.87" y1="281.5" x2="280.87" y2="280.3" stroke="#4a4a4a" stroke-width="0.8"/><line x1="282.78" y1="281.5" x2="282.78" y2="280.3" stroke="#4a4a4a" stroke-width="0.8"/><line x1="284.5" y1="281.5" x2="284.5" y2="279.3" stroke="#4a4a4a" stroke-width="0.8"/><line x1="295.79" y1="281.5" x2="295.79" y2="280.3" stroke="#4a4a4a" stroke-width="0.8"/><line x1="302.39" y1="281.5" x2="302.39" y2="280.3" stroke="#4a4a4a" stroke-width="0.8"/><line x1="307.08" y1="281.5" x2="307.08" y2="280.3" stroke="#4a4a4a" stroke-width="0.8"/><line x1="310.71" y1="281.5" x2="310.71" y2="280.3" stroke="#4a4a4a" stroke-width="0.8"/><line x1="313.68" y1="281.5" x2="313.68" y2="280.3" stroke="#4a4a4a" stroke-width="0.8"/><line x1="316.19" y1="281.5" x2="316.19" y2="280.3" stroke="#4a4a4a" stroke-width="0.8"/><line x1="318.37" y1="281.5" x2="318.37" y2="280.3" stroke="#4a4a4a" stroke-width="0.8"/><line x1="320.28" y1="281.5" x2="320.28" y2="280.3" stroke="#4a4a4a" stroke-width="0.8"/><line x1="322" y1="281.5" x2="322" y2="279.3" stroke="#4a4a4a" stroke-width="0.8"/><line x1="333.29" y1="281.5" x2="333.29" y2="280.3" stroke="#4a4a4a" stroke-width="0.8"/><line x1="339.89" y1="281.5" x2="339.89" y2="280.3" stroke="#4a4a4a" stroke-width="0.8"/><line x1="344.58" y1="281.5" x2="344.58" y2="280.3" stroke="#4a4a4a" stroke-width="0.8"/><line x1="348.21" y1="281.5" x2="348.21" y2="280.3" stroke="#4a4a4a" stroke-width="0.8"/><line x1="351.18" y1="281.5" x2="351.18" y2="280.3" stroke="#4a4a4a" stroke-width="0.8"/><line x1="353.69" y1="281.5" x2="353.69" y2="280.3" stroke="#4a4a4a" stroke-width="0.8"/><line x1="355.87" y1="281.5" x2="355.87" y2="280.3" stroke="#4a4a4a" stroke-width="0.8"/><line x1="357.78" y1="281.5" x2="357.78" y2="280.3" stroke="#4a4a4a" stroke-width="0.8"/><text x="207.6" y="283.3" font-size="5.2" text-anchor="end" fill="#111" class="tk">0.0</text><text x="207.6" y="259.1" font-size="5.2" text-anchor="end" fill="#111" class="tk">0.2</text><text x="207.6" y="234.9" font-size="5.2" text-anchor="end" fill="#111" class="tk">0.4</text><text x="207.6" y="210.7" font-size="5.2" text-anchor="end" fill="#111" class="tk">0.6</text><text x="207.6" y="186.5" font-size="5.2" text-anchor="end" fill="#111" class="tk">0.8</text><text x="207.6" y="162.3" font-size="5.2" text-anchor="end" fill="#111" class="tk">1.0</text><text x="209.5" y="288.8" font-size="5.3" text-anchor="middle" fill="#111" class="tk">0.1</text><text x="247" y="288.8" font-size="5.3" text-anchor="middle" fill="#111" class="tk">1</text><text x="284.5" y="288.8" font-size="5.3" text-anchor="middle" fill="#111" class="tk">10</text><text x="322" y="288.8" font-size="5.3" text-anchor="middle" fill="#111" class="tk">100</text><text x="359.5" y="288.8" font-size="5.3" text-anchor="middle" fill="#111" class="tk">1000</text><text x="284.7" y="299.9" font-size="7" text-anchor="middle" fill="#111">Current Density (mA cm<tspan font-size="4.5" dy="-2.3">-2</tspan><tspan dy="2.3">)</tspan></text><text transform="translate(195,220.8) rotate(-90)" font-size="7.1" text-anchor="middle" fill="#111">Current Efficiency (cd A<tspan font-size="4.3" dy="-2.3">-1</tspan><tspan dy="2.3">)</tspan></text><text x="190.5" y="167.8" font-size="11" text-anchor="middle" fill="#111">(e)</text><g clip-path="url(#ce)"><polyline points="279.3,281.5 281.7,278.6 292.1,279.7 300,273 306.9,273.7 312.9,271.9 318.2,270.4 322.7,268.2 326.7,268.9 330.4,268.5 334.2,269 338,270 342.3,271.5 346.5,273.6 349.8,276.6 352.8,279.5 353.6,281" fill="none" stroke="#fa3c22" stroke-width="0.8" stroke-linejoin="round"/><circle cx="279.3" cy="281.5" r="1.35" fill="#fa3c22"/><circle cx="279.3" cy="281.5" r="0.51" fill="#ff9d90"/><circle cx="281.7" cy="278.6" r="1.35" fill="#fa3c22"/><circle cx="281.7" cy="278.6" r="0.51" fill="#ff9d90"/><circle cx="292.1" cy="279.7" r="1.35" fill="#fa3c22"/><circle cx="292.1" cy="279.7" r="0.51" fill="#ff9d90"/><circle cx="300" cy="273" r="1.35" fill="#fa3c22"/><circle cx="300" cy="273" r="0.51" fill="#ff9d90"/><circle cx="306.9" cy="273.7" r="1.35" fill="#fa3c22"/><circle cx="306.9" cy="273.7" r="0.51" fill="#ff9d90"/><circle cx="312.9" cy="271.9" r="1.35" fill="#fa3c22"/><circle cx="312.9" cy="271.9" r="0.51" fill="#ff9d90"/><circle cx="318.2" cy="270.4" r="1.35" fill="#fa3c22"/><circle cx="318.2" cy="270.4" r="0.51" fill="#ff9d90"/><circle cx="322.7" cy="268.2" r="1.35" fill="#fa3c22"/><circle cx="322.7" cy="268.2" r="0.51" fill="#ff9d90"/><circle cx="326.7" cy="268.9" r="1.35" fill="#fa3c22"/><circle cx="326.7" cy="268.9" r="0.51" fill="#ff9d90"/><circle cx="330.4" cy="268.5" r="1.35" fill="#fa3c22"/><circle cx="330.4" cy="268.5" r="0.51" fill="#ff9d90"/><circle cx="334.2" cy="269" r="1.35" fill="#fa3c22"/><circle cx="334.2" cy="269" r="0.51" fill="#ff9d90"/><circle cx="338" cy="270" r="1.35" fill="#fa3c22"/><circle cx="338" cy="270" r="0.51" fill="#ff9d90"/><circle cx="342.3" cy="271.5" r="1.35" fill="#fa3c22"/><circle cx="342.3" cy="271.5" r="0.51" fill="#ff9d90"/><circle cx="346.5" cy="273.6" r="1.35" fill="#fa3c22"/><circle cx="346.5" cy="273.6" r="0.51" fill="#ff9d90"/><circle cx="349.8" cy="276.6" r="1.35" fill="#fa3c22"/><circle cx="349.8" cy="276.6" r="0.51" fill="#ff9d90"/><circle cx="352.8" cy="279.5" r="1.35" fill="#fa3c22"/><circle cx="352.8" cy="279.5" r="0.51" fill="#ff9d90"/><circle cx="353.6" cy="281" r="1.35" fill="#fa3c22"/><circle cx="353.6" cy="281" r="0.51" fill="#ff9d90"/></g><g clip-path="url(#ce)"><polyline points="241.8,282 255.3,273 269.2,269.2 281.7,259 292,254.5 300,252.7 306.9,252.4 312.9,255 318.2,258.6 322.7,261.9 326.7,264.9 330.2,268.2 333.8,271.1 336.8,273.2 339.7,275.3 342.7,277 345.2,278.3" fill="none" stroke="#c9c222" stroke-width="0.8" stroke-linejoin="round"/><polygon points="241.8,280.31 243.49,282 241.8,283.69 240.11,282" fill="#c9c222"/><polygon points="255.3,271.31 256.99,273 255.3,274.69 253.61,273" fill="#c9c222"/><polygon points="269.2,267.51 270.89,269.2 269.2,270.89 267.51,269.2" fill="#c9c222"/><polygon points="281.7,257.31 283.39,259 281.7,260.69 280.01,259" fill="#c9c222"/><polygon points="292,252.81 293.69,254.5 292,256.19 290.31,254.5" fill="#c9c222"/><polygon points="300,251.01 301.69,252.7 300,254.39 298.31,252.7" fill="#c9c222"/><polygon points="306.9,250.71 308.59,252.4 306.9,254.09 305.21,252.4" fill="#c9c222"/><polygon points="312.9,253.31 314.59,255 312.9,256.69 311.21,255" fill="#c9c222"/><polygon points="318.2,256.91 319.89,258.6 318.2,260.29 316.51,258.6" fill="#c9c222"/><polygon points="322.7,260.21 324.39,261.9 322.7,263.59 321.01,261.9" fill="#c9c222"/><polygon points="326.7,263.21 328.39,264.9 326.7,266.59 325.01,264.9" fill="#c9c222"/><polygon points="330.2,266.51 331.89,268.2 330.2,269.89 328.51,268.2" fill="#c9c222"/><polygon points="333.8,269.41 335.49,271.1 333.8,272.79 332.11,271.1" fill="#c9c222"/><polygon points="336.8,271.51 338.49,273.2 336.8,274.89 335.11,273.2" fill="#c9c222"/><polygon points="339.7,273.61 341.39,275.3 339.7,276.99 338.01,275.3" fill="#c9c222"/><polygon points="342.7,275.31 344.39,277 342.7,278.69 341.01,277" fill="#c9c222"/><polygon points="345.2,276.61 346.89,278.3 345.2,279.99 343.51,278.3" fill="#c9c222"/></g><g clip-path="url(#ce)"><polyline points="231.3,279 242.1,269 255.3,264.6 269.3,260.6 281.7,254.6 291.9,249.4 300.1,248.2 306.9,247.4 312.7,246.9 318.2,246.9 322.8,247.6 327,248.7 330.2,250.4 333.3,252.3 336.3,254.3 339,257.2 341.1,261.3 343.3,265.6 345.6,269 346.8,271.7" fill="none" stroke="#1ccf8c" stroke-width="0.8" stroke-linejoin="round"/><rect x="229.95" y="277.65" width="2.7" height="2.7" fill="#1ccf8c"/><rect x="240.75" y="267.65" width="2.7" height="2.7" fill="#1ccf8c"/><rect x="253.95" y="263.25" width="2.7" height="2.7" fill="#1ccf8c"/><rect x="267.95" y="259.25" width="2.7" height="2.7" fill="#1ccf8c"/><rect x="280.35" y="253.25" width="2.7" height="2.7" fill="#1ccf8c"/><rect x="290.55" y="248.05" width="2.7" height="2.7" fill="#1ccf8c"/><rect x="298.75" y="246.85" width="2.7" height="2.7" fill="#1ccf8c"/><rect x="305.55" y="246.05" width="2.7" height="2.7" fill="#1ccf8c"/><rect x="311.35" y="245.55" width="2.7" height="2.7" fill="#1ccf8c"/><rect x="316.85" y="245.55" width="2.7" height="2.7" fill="#1ccf8c"/><rect x="321.45" y="246.25" width="2.7" height="2.7" fill="#1ccf8c"/><rect x="325.65" y="247.35" width="2.7" height="2.7" fill="#1ccf8c"/><rect x="328.85" y="249.05" width="2.7" height="2.7" fill="#1ccf8c"/><rect x="331.95" y="250.95" width="2.7" height="2.7" fill="#1ccf8c"/><rect x="334.95" y="252.95" width="2.7" height="2.7" fill="#1ccf8c"/><rect x="337.65" y="255.85" width="2.7" height="2.7" fill="#1ccf8c"/><rect x="339.75" y="259.95" width="2.7" height="2.7" fill="#1ccf8c"/><rect x="341.95" y="264.25" width="2.7" height="2.7" fill="#1ccf8c"/><rect x="344.25" y="267.65" width="2.7" height="2.7" fill="#1ccf8c"/><rect x="345.45" y="270.35" width="2.7" height="2.7" fill="#1ccf8c"/></g><g clip-path="url(#ce)"><polyline points="346.8,271.7 349.5,276.3 352,281" fill="none" stroke="#1ccf8c" stroke-width="0.8" stroke-linejoin="round"/></g><g clip-path="url(#ce)"><polyline points="227.5,281.5 242.1,275.9 255.3,261.5 269.8,241 281.7,230.4 291.8,229.2 300.1,229.4 306.9,231.3 312.7,234.6 317.9,240.1 322.8,246.2 326.5,253.6 329.8,260.7 332.1,266.4 335.9,275.7 338.9,277.4 342.3,278.7 349,280.4 353.2,280.6" fill="none" stroke="#1aaeb6" stroke-width="0.8" stroke-linejoin="round"/><polygon points="227.5,279.95 228.99,282.58 226.01,282.58" fill="#1aaeb6"/><polygon points="242.1,274.35 243.59,276.98 240.61,276.98" fill="#1aaeb6"/><polygon points="255.3,259.95 256.79,262.58 253.81,262.58" fill="#1aaeb6"/><polygon points="269.8,239.45 271.29,242.08 268.31,242.08" fill="#1aaeb6"/><polygon points="281.7,228.85 283.19,231.48 280.21,231.48" fill="#1aaeb6"/><polygon points="291.8,227.65 293.29,230.28 290.31,230.28" fill="#1aaeb6"/><polygon points="300.1,227.85 301.59,230.48 298.62,230.48" fill="#1aaeb6"/><polygon points="306.9,229.75 308.38,232.38 305.41,232.38" fill="#1aaeb6"/><polygon points="312.7,233.05 314.19,235.68 311.21,235.68" fill="#1aaeb6"/><polygon points="317.9,238.55 319.38,241.18 316.41,241.18" fill="#1aaeb6"/><polygon points="322.8,244.65 324.29,247.28 321.31,247.28" fill="#1aaeb6"/><polygon points="326.5,252.05 327.99,254.68 325.01,254.68" fill="#1aaeb6"/><polygon points="329.8,259.15 331.29,261.78 328.31,261.78" fill="#1aaeb6"/><polygon points="332.1,264.85 333.59,267.48 330.62,267.48" fill="#1aaeb6"/><polygon points="335.9,274.15 337.38,276.78 334.41,276.78" fill="#1aaeb6"/><polygon points="338.9,275.85 340.38,278.48 337.41,278.48" fill="#1aaeb6"/><polygon points="342.3,277.15 343.79,279.78 340.81,279.78" fill="#1aaeb6"/><polygon points="349,278.85 350.49,281.48 347.51,281.48" fill="#1aaeb6"/><polygon points="353.2,279.05 354.69,281.68 351.71,281.68" fill="#1aaeb6"/></g><g clip-path="url(#ce)"><polyline points="333.5,269.3 338,270.8 342.3,272.4 346.5,274.7 349.8,277.2 352.6,279.7 354.3,281.4" fill="none" stroke="#fa3c22" stroke-width="3.3" stroke-linejoin="round"/><polyline points="338,270.8 342.3,272.4 346.5,274.7 349.8,277.2 352.6,279.7" fill="none" stroke="#fff" stroke-width="0.9" stroke-linejoin="round"/></g><g clip-path="url(#ce)"><polyline points="231.3,276.5 242.1,271.2 255.3,263 269.5,182.7 281.7,186.2 291.8,193 300.1,204.2 307,213.5 313.1,223.8 318.3,233 322.7,241.5 326.6,250.5 330.2,257.5 333.4,261.8 336.5,266.3 338.9,270.5 341.2,273.4" fill="none" stroke="#d222ee" stroke-width="0.8" stroke-linejoin="round"/><circle cx="231.3" cy="276.5" r="1.35" fill="#d222ee"/><circle cx="242.1" cy="271.2" r="1.35" fill="#d222ee"/><circle cx="255.3" cy="263" r="1.35" fill="#d222ee"/><circle cx="269.5" cy="182.7" r="1.35" fill="#d222ee"/><circle cx="281.7" cy="186.2" r="1.35" fill="#d222ee"/><circle cx="291.8" cy="193" r="1.35" fill="#d222ee"/><circle cx="300.1" cy="204.2" r="1.35" fill="#d222ee"/><circle cx="307" cy="213.5" r="1.35" fill="#d222ee"/><circle cx="313.1" cy="223.8" r="1.35" fill="#d222ee"/><circle cx="318.3" cy="233" r="1.35" fill="#d222ee"/><circle cx="322.7" cy="241.5" r="1.35" fill="#d222ee"/><circle cx="326.6" cy="250.5" r="1.35" fill="#d222ee"/><circle cx="330.2" cy="257.5" r="1.35" fill="#d222ee"/><circle cx="333.4" cy="261.8" r="1.35" fill="#d222ee"/><circle cx="336.5" cy="266.3" r="1.35" fill="#d222ee"/><circle cx="338.9" cy="270.5" r="1.35" fill="#d222ee"/><circle cx="341.2" cy="273.4" r="1.35" fill="#d222ee"/></g><line x1="329.6" y1="172.9" x2="343.3" y2="172.9" stroke="#fa3c22" stroke-width="0.9"/><circle cx="336.6" cy="172.9" r="1.6" fill="#fa3c22"/><circle cx="336.6" cy="172.9" r="0.61" fill="#ff9d90"/><text x="344.3" y="174.97" font-size="5.9" text-anchor="start" fill="#111">0:5</text><line x1="329.6" y1="179.9" x2="343.3" y2="179.9" stroke="#1ccf8c" stroke-width="0.9"/><rect x="335" y="178.3" width="3.2" height="3.2" fill="#1ccf8c"/><text x="344.3" y="181.97" font-size="5.9" text-anchor="start" fill="#111">1:4</text><line x1="329.6" y1="186.9" x2="343.3" y2="186.9" stroke="#1aaeb6" stroke-width="0.9"/><polygon points="336.6,185.06 338.36,188.18 334.84,188.18" fill="#1aaeb6"/><text x="344.3" y="188.97" font-size="5.9" text-anchor="start" fill="#111">2:3</text><line x1="329.6" y1="194.3" x2="343.3" y2="194.3" stroke="#d222ee" stroke-width="0.9"/><circle cx="336.6" cy="194.3" r="1.6" fill="#d222ee"/><text x="344.3" y="196.37" font-size="5.9" text-anchor="start" fill="#111">3:2</text><line x1="329.6" y1="201.7" x2="343.3" y2="201.7" stroke="#c9c222" stroke-width="0.9"/><polygon points="336.6,199.7 338.6,201.7 336.6,203.7 334.6,201.7" fill="#c9c222"/><text x="344.3" y="203.76" font-size="5.9" text-anchor="start" fill="#111">4:1</text>
<rect x="393.4" y="161.5" width="152.9" height="123" fill="none" stroke="#4a4a4a" stroke-width="1"/><line x1="393.4" y1="284.4" x2="395.6" y2="284.4" stroke="#4a4a4a" stroke-width="0.8"/><line x1="393.4" y1="268.95" x2="394.6" y2="268.95" stroke="#4a4a4a" stroke-width="0.8"/><line x1="393.4" y1="253.5" x2="395.6" y2="253.5" stroke="#4a4a4a" stroke-width="0.8"/><line x1="393.4" y1="238.05" x2="394.6" y2="238.05" stroke="#4a4a4a" stroke-width="0.8"/><line x1="393.4" y1="222.6" x2="395.6" y2="222.6" stroke="#4a4a4a" stroke-width="0.8"/><line x1="393.4" y1="207.15" x2="394.6" y2="207.15" stroke="#4a4a4a" stroke-width="0.8"/><line x1="393.4" y1="191.7" x2="395.6" y2="191.7" stroke="#4a4a4a" stroke-width="0.8"/><line x1="393.4" y1="176.25" x2="394.6" y2="176.25" stroke="#4a4a4a" stroke-width="0.8"/><line x1="393.4" y1="284.5" x2="393.4" y2="282.3" stroke="#4a4a4a" stroke-width="0.8"/><line x1="415.15" y1="284.5" x2="415.15" y2="283.3" stroke="#4a4a4a" stroke-width="0.8"/><line x1="436.9" y1="284.5" x2="436.9" y2="282.3" stroke="#4a4a4a" stroke-width="0.8"/><line x1="458.65" y1="284.5" x2="458.65" y2="283.3" stroke="#4a4a4a" stroke-width="0.8"/><line x1="480.4" y1="284.5" x2="480.4" y2="282.3" stroke="#4a4a4a" stroke-width="0.8"/><line x1="502.15" y1="284.5" x2="502.15" y2="283.3" stroke="#4a4a4a" stroke-width="0.8"/><line x1="523.9" y1="284.5" x2="523.9" y2="282.3" stroke="#4a4a4a" stroke-width="0.8"/><line x1="545.65" y1="284.5" x2="545.65" y2="283.3" stroke="#4a4a4a" stroke-width="0.8"/><text x="390.8" y="286.2" font-size="5.2" text-anchor="end" fill="#111" class="tk">0.0</text><text x="390.8" y="255.3" font-size="5.2" text-anchor="end" fill="#111" class="tk">0.2</text><text x="390.8" y="224.4" font-size="5.2" text-anchor="end" fill="#111" class="tk">0.4</text><text x="390.8" y="193.5" font-size="5.2" text-anchor="end" fill="#111" class="tk">0.6</text><text x="390.8" y="162.6" font-size="5.2" text-anchor="end" fill="#111" class="tk">0.8</text><text x="393.4" y="291.8" font-size="5.3" text-anchor="middle" fill="#111" class="tk">3</text><text x="436.9" y="291.8" font-size="5.3" text-anchor="middle" fill="#111" class="tk">4</text><text x="480.4" y="291.8" font-size="5.3" text-anchor="middle" fill="#111" class="tk">5</text><text x="523.9" y="291.8" font-size="5.3" text-anchor="middle" fill="#111" class="tk">6</text><text x="471" y="299.5" font-size="8.4" text-anchor="middle" fill="#111">Voltage (V)</text><text transform="translate(382.6,222.9) rotate(-90)" font-size="8.5" text-anchor="middle" fill="#111">EQE (%)</text><text x="377.1" y="167.5" font-size="11" text-anchor="middle" fill="#111">(f)</text><g clip-path="url(#cf)"><polyline points="409.5,284.6 410.8,283.3 419.5,276.4 428.2,274.4 436.9,273.4 445.6,271.2 454.3,271.5 463,272.3 471.7,273.1 480.4,274 489.1,274.3 497.8,275.1 506.5,277 515.2,277.7 523.9,278.6 532.6,279.8 541.3,280.9 545.65,281.9" fill="none" stroke="#fa3c22" stroke-width="0.8" stroke-linejoin="round"/><circle cx="409.5" cy="284.6" r="1.35" fill="#fa3c22"/><circle cx="409.5" cy="284.6" r="0.51" fill="#ff9d90"/><circle cx="410.8" cy="283.3" r="1.35" fill="#fa3c22"/><circle cx="410.8" cy="283.3" r="0.51" fill="#ff9d90"/><circle cx="419.5" cy="276.4" r="1.35" fill="#fa3c22"/><circle cx="419.5" cy="276.4" r="0.51" fill="#ff9d90"/><circle cx="428.2" cy="274.4" r="1.35" fill="#fa3c22"/><circle cx="428.2" cy="274.4" r="0.51" fill="#ff9d90"/><circle cx="436.9" cy="273.4" r="1.35" fill="#fa3c22"/><circle cx="436.9" cy="273.4" r="0.51" fill="#ff9d90"/><circle cx="445.6" cy="271.2" r="1.35" fill="#fa3c22"/><circle cx="445.6" cy="271.2" r="0.51" fill="#ff9d90"/><circle cx="454.3" cy="271.5" r="1.35" fill="#fa3c22"/><circle cx="454.3" cy="271.5" r="0.51" fill="#ff9d90"/><circle cx="463" cy="272.3" r="1.35" fill="#fa3c22"/><circle cx="463" cy="272.3" r="0.51" fill="#ff9d90"/><circle cx="471.7" cy="273.1" r="1.35" fill="#fa3c22"/><circle cx="471.7" cy="273.1" r="0.51" fill="#ff9d90"/><circle cx="480.4" cy="274" r="1.35" fill="#fa3c22"/><circle cx="480.4" cy="274" r="0.51" fill="#ff9d90"/><circle cx="489.1" cy="274.3" r="1.35" fill="#fa3c22"/><circle cx="489.1" cy="274.3" r="0.51" fill="#ff9d90"/><circle cx="497.8" cy="275.1" r="1.35" fill="#fa3c22"/><circle cx="497.8" cy="275.1" r="0.51" fill="#ff9d90"/><circle cx="506.5" cy="277" r="1.35" fill="#fa3c22"/><circle cx="506.5" cy="277" r="0.51" fill="#ff9d90"/><circle cx="515.2" cy="277.7" r="1.35" fill="#fa3c22"/><circle cx="515.2" cy="277.7" r="0.51" fill="#ff9d90"/><circle cx="523.9" cy="278.6" r="1.35" fill="#fa3c22"/><circle cx="523.9" cy="278.6" r="0.51" fill="#ff9d90"/><circle cx="532.6" cy="279.8" r="1.35" fill="#fa3c22"/><circle cx="532.6" cy="279.8" r="0.51" fill="#ff9d90"/><circle cx="541.3" cy="280.9" r="1.35" fill="#fa3c22"/><circle cx="541.3" cy="280.9" r="0.51" fill="#ff9d90"/><circle cx="545.65" cy="281.9" r="1.35" fill="#fa3c22"/><circle cx="545.65" cy="281.9" r="0.51" fill="#ff9d90"/></g><g clip-path="url(#cf)"><polyline points="393.4,275.3 402.1,272.1 410.8,261.6 419.5,257.4 428.2,255.2 436.9,255.2 445.6,258 454.3,261 463,264.5 471.7,268.3 480.4,271 489.1,274.3 497.8,276.2 506.5,277.7 515.2,279 523.9,280.3 532.6,281.4 541.3,282.5" fill="none" stroke="#c9c222" stroke-width="0.8" stroke-linejoin="round"/><polygon points="393.4,273.61 395.09,275.3 393.4,276.99 391.71,275.3" fill="#c9c222"/><polygon points="402.1,270.41 403.79,272.1 402.1,273.79 400.41,272.1" fill="#c9c222"/><polygon points="410.8,259.91 412.49,261.6 410.8,263.29 409.11,261.6" fill="#c9c222"/><polygon points="419.5,255.71 421.19,257.4 419.5,259.09 417.81,257.4" fill="#c9c222"/><polygon points="428.2,253.51 429.89,255.2 428.2,256.89 426.51,255.2" fill="#c9c222"/><polygon points="436.9,253.51 438.59,255.2 436.9,256.89 435.21,255.2" fill="#c9c222"/><polygon points="445.6,256.31 447.29,258 445.6,259.69 443.91,258" fill="#c9c222"/><polygon points="454.3,259.31 455.99,261 454.3,262.69 452.61,261" fill="#c9c222"/><polygon points="463,262.81 464.69,264.5 463,266.19 461.31,264.5" fill="#c9c222"/><polygon points="471.7,266.61 473.39,268.3 471.7,269.99 470.01,268.3" fill="#c9c222"/><polygon points="480.4,269.31 482.09,271 480.4,272.69 478.71,271" fill="#c9c222"/><polygon points="489.1,272.61 490.79,274.3 489.1,275.99 487.41,274.3" fill="#c9c222"/><polygon points="497.8,274.51 499.49,276.2 497.8,277.89 496.11,276.2" fill="#c9c222"/><polygon points="506.5,276.01 508.19,277.7 506.5,279.39 504.81,277.7" fill="#c9c222"/><polygon points="515.2,277.31 516.89,279 515.2,280.69 513.51,279" fill="#c9c222"/><polygon points="523.9,278.61 525.59,280.3 523.9,281.99 522.21,280.3" fill="#c9c222"/><polygon points="532.6,279.71 534.29,281.4 532.6,283.09 530.91,281.4" fill="#c9c222"/><polygon points="541.3,280.81 542.99,282.5 541.3,284.19 539.61,282.5" fill="#c9c222"/></g><g clip-path="url(#cf)"><polyline points="393.4,267.6 402.1,263.1 410.8,257.1 419.5,251.9 428.2,250.7 436.9,249.8 445.6,249.6 454.3,249.6 463,250.4 471.7,251.2 480.4,252.9 489.1,254.6 497.8,256.5 506.5,259.8 515.2,264.4 523.9,268.9 532.6,272.1 541.3,274.4 545.65,275.4" fill="none" stroke="#1ccf8c" stroke-width="0.8" stroke-linejoin="round"/><rect x="392.05" y="266.25" width="2.7" height="2.7" fill="#1ccf8c"/><rect x="400.75" y="261.75" width="2.7" height="2.7" fill="#1ccf8c"/><rect x="409.45" y="255.75" width="2.7" height="2.7" fill="#1ccf8c"/><rect x="418.15" y="250.55" width="2.7" height="2.7" fill="#1ccf8c"/><rect x="426.85" y="249.35" width="2.7" height="2.7" fill="#1ccf8c"/><rect x="435.55" y="248.45" width="2.7" height="2.7" fill="#1ccf8c"/><rect x="444.25" y="248.25" width="2.7" height="2.7" fill="#1ccf8c"/><rect x="452.95" y="248.25" width="2.7" height="2.7" fill="#1ccf8c"/><rect x="461.65" y="249.05" width="2.7" height="2.7" fill="#1ccf8c"/><rect x="470.35" y="249.85" width="2.7" height="2.7" fill="#1ccf8c"/><rect x="479.05" y="251.55" width="2.7" height="2.7" fill="#1ccf8c"/><rect x="487.75" y="253.25" width="2.7" height="2.7" fill="#1ccf8c"/><rect x="496.45" y="255.15" width="2.7" height="2.7" fill="#1ccf8c"/><rect x="505.15" y="258.45" width="2.7" height="2.7" fill="#1ccf8c"/><rect x="513.85" y="263.05" width="2.7" height="2.7" fill="#1ccf8c"/><rect x="522.55" y="267.55" width="2.7" height="2.7" fill="#1ccf8c"/><rect x="531.25" y="270.75" width="2.7" height="2.7" fill="#1ccf8c"/><rect x="539.95" y="273.05" width="2.7" height="2.7" fill="#1ccf8c"/><rect x="544.3" y="274.05" width="2.7" height="2.7" fill="#1ccf8c"/></g><g clip-path="url(#cf)"><polyline points="393.4,265.6 402.1,243.3 410.8,232.8 419.5,231.2 428.2,231.7 436.9,233.3 445.6,236.6 454.3,242.4 463,248.6 471.7,256.4 480.4,265 489.1,273.1 497.8,278.7 506.5,279.8 515.2,280.9 523.9,281.9 532.6,282.5 541.3,283" fill="none" stroke="#1aaeb6" stroke-width="0.8" stroke-linejoin="round"/><polygon points="393.4,264.05 394.88,266.68 391.91,266.68" fill="#1aaeb6"/><polygon points="402.1,241.75 403.58,244.38 400.61,244.38" fill="#1aaeb6"/><polygon points="410.8,231.25 412.28,233.88 409.31,233.88" fill="#1aaeb6"/><polygon points="419.5,229.65 420.99,232.28 418.01,232.28" fill="#1aaeb6"/><polygon points="428.2,230.15 429.69,232.78 426.71,232.78" fill="#1aaeb6"/><polygon points="436.9,231.75 438.38,234.38 435.41,234.38" fill="#1aaeb6"/><polygon points="445.6,235.05 447.08,237.68 444.11,237.68" fill="#1aaeb6"/><polygon points="454.3,240.85 455.78,243.48 452.81,243.48" fill="#1aaeb6"/><polygon points="463,247.05 464.49,249.68 461.51,249.68" fill="#1aaeb6"/><polygon points="471.7,254.85 473.19,257.48 470.21,257.48" fill="#1aaeb6"/><polygon points="480.4,263.45 481.88,266.08 478.91,266.08" fill="#1aaeb6"/><polygon points="489.1,271.55 490.58,274.18 487.61,274.18" fill="#1aaeb6"/><polygon points="497.8,277.15 499.28,279.78 496.31,279.78" fill="#1aaeb6"/><polygon points="506.5,278.25 507.99,280.88 505.01,280.88" fill="#1aaeb6"/><polygon points="515.2,279.35 516.68,281.98 513.71,281.98" fill="#1aaeb6"/><polygon points="523.9,280.35 525.38,282.98 522.41,282.98" fill="#1aaeb6"/><polygon points="532.6,280.95 534.08,283.58 531.11,283.58" fill="#1aaeb6"/><polygon points="541.3,281.45 542.78,284.08 539.81,284.08" fill="#1aaeb6"/></g><g clip-path="url(#cf)"><polyline points="393.4,264.5 402.1,183.5 410.8,187.6 419.5,194.1 428.2,205.6 436.9,215.4 445.6,225.6 454.3,235.1 463,243.9 471.7,252 480.4,259.7 489.1,264.5 497.8,269.4 506.5,273.3 515.2,276.5" fill="none" stroke="#d222ee" stroke-width="0.8" stroke-linejoin="round"/><circle cx="393.4" cy="264.5" r="1.35" fill="#d222ee"/><circle cx="402.1" cy="183.5" r="1.35" fill="#d222ee"/><circle cx="410.8" cy="187.6" r="1.35" fill="#d222ee"/><circle cx="419.5" cy="194.1" r="1.35" fill="#d222ee"/><circle cx="428.2" cy="205.6" r="1.35" fill="#d222ee"/><circle cx="436.9" cy="215.4" r="1.35" fill="#d222ee"/><circle cx="445.6" cy="225.6" r="1.35" fill="#d222ee"/><circle cx="454.3" cy="235.1" r="1.35" fill="#d222ee"/><circle cx="463" cy="243.9" r="1.35" fill="#d222ee"/><circle cx="471.7" cy="252" r="1.35" fill="#d222ee"/><circle cx="480.4" cy="259.7" r="1.35" fill="#d222ee"/><circle cx="489.1" cy="264.5" r="1.35" fill="#d222ee"/><circle cx="497.8" cy="269.4" r="1.35" fill="#d222ee"/><circle cx="506.5" cy="273.3" r="1.35" fill="#d222ee"/><circle cx="515.2" cy="276.5" r="1.35" fill="#d222ee"/></g><line x1="515" y1="173.2" x2="529" y2="173.2" stroke="#fa3c22" stroke-width="0.9"/><circle cx="522.3" cy="173.2" r="1.6" fill="#fa3c22"/><circle cx="522.3" cy="173.2" r="0.61" fill="#ff9d90"/><text x="530.7" y="175.26" font-size="5.9" text-anchor="start" fill="#111">0:5</text><line x1="515" y1="180.7" x2="529" y2="180.7" stroke="#1ccf8c" stroke-width="0.9"/><rect x="520.7" y="179.1" width="3.2" height="3.2" fill="#1ccf8c"/><text x="530.7" y="182.76" font-size="5.9" text-anchor="start" fill="#111">1:4</text><line x1="515" y1="188.1" x2="529" y2="188.1" stroke="#1aaeb6" stroke-width="0.9"/><polygon points="522.3,186.26 524.06,189.38 520.54,189.38" fill="#1aaeb6"/><text x="530.7" y="190.16" font-size="5.9" text-anchor="start" fill="#111">2:3</text><line x1="515" y1="195" x2="529" y2="195" stroke="#d222ee" stroke-width="0.9"/><circle cx="522.3" cy="195" r="1.6" fill="#d222ee"/><text x="530.7" y="197.06" font-size="5.9" text-anchor="start" fill="#111">3:2</text><line x1="515" y1="202.7" x2="529" y2="202.7" stroke="#c9c222" stroke-width="0.9"/><polygon points="522.3,200.7 524.3,202.7 522.3,204.7 520.3,202.7" fill="#c9c222"/><text x="530.7" y="204.76" font-size="5.9" text-anchor="start" fill="#111">4:1</text>
</svg></body></html>
